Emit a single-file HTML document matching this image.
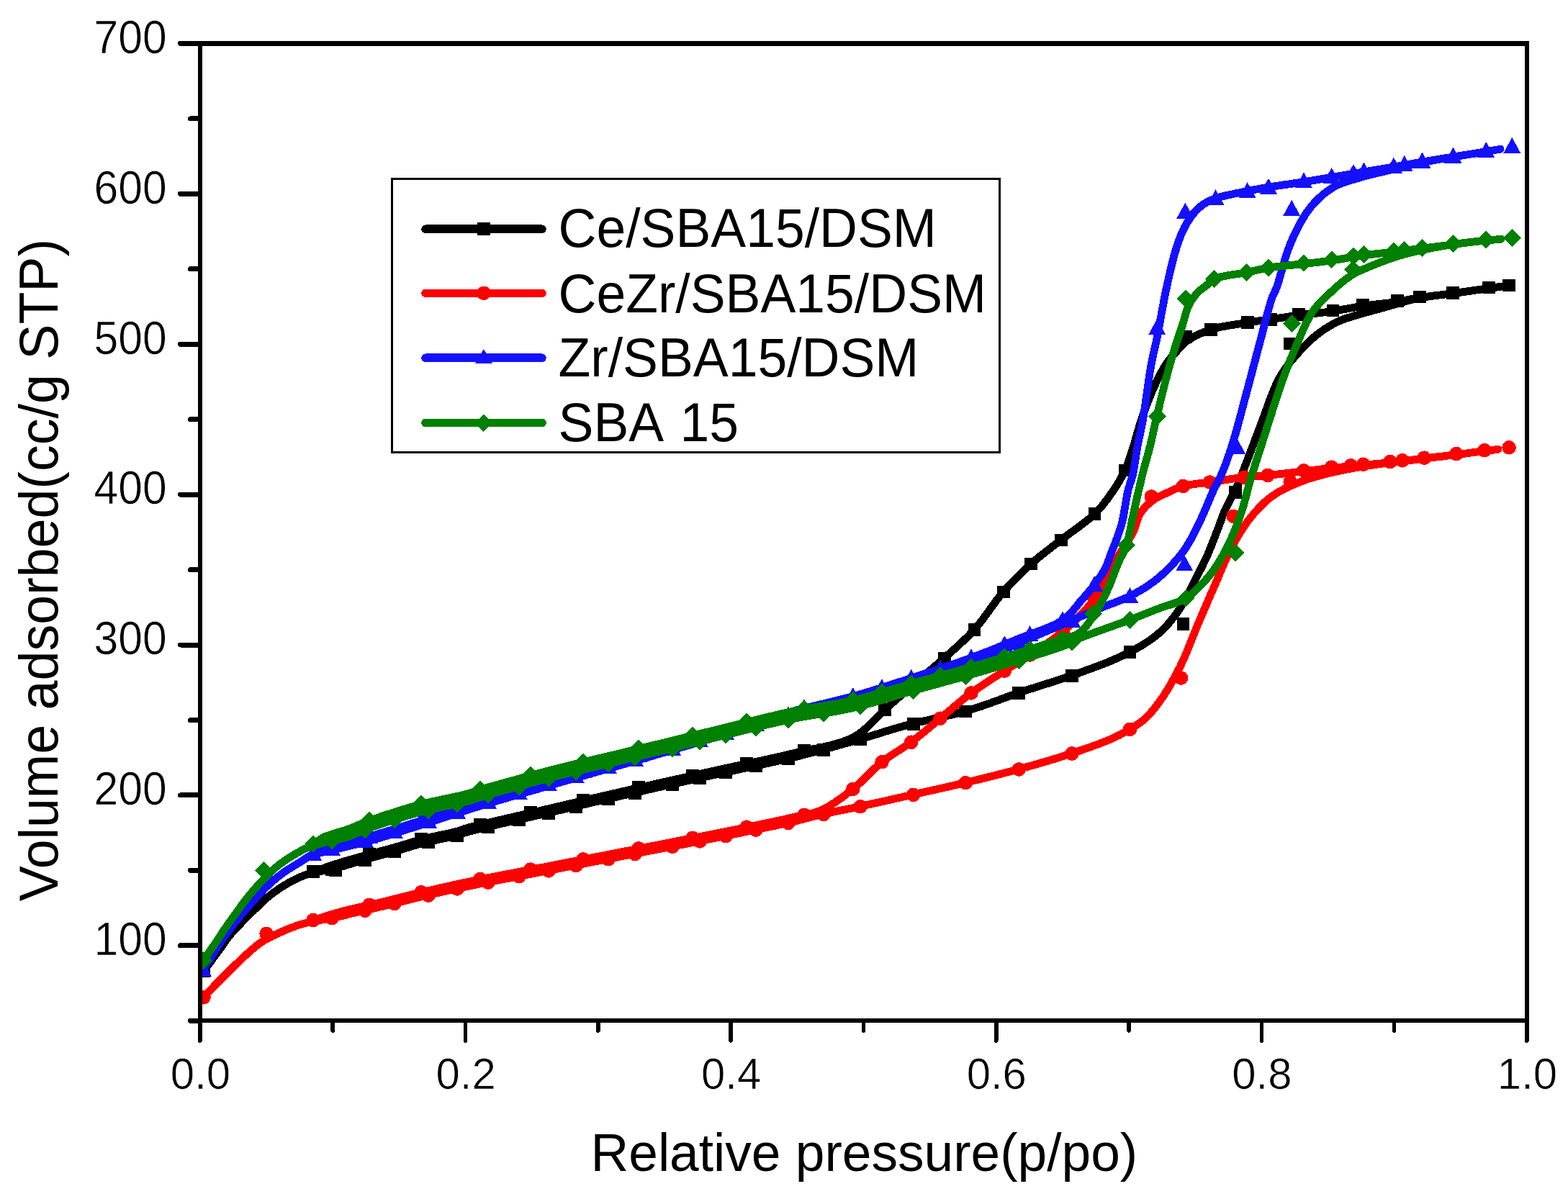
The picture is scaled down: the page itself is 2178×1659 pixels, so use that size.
<!DOCTYPE html>
<html lang="en"><head><meta charset="utf-8"><title>N2 adsorption isotherms</title>
<style>html,body{margin:0;padding:0;background:#fff}body{width:2178px;height:1659px;overflow:hidden}svg{display:block}text{font-family:"Liberation Sans",sans-serif;fill:#000}</style></head><body>
<svg width="2178" height="1659" viewBox="0 0 2178 1659">
<rect width="2178" height="1659" fill="#fff"/>
<defs><clipPath id="plot"><rect x="277.9" y="60.4" width="1843.0" height="1357.9"/></clipPath></defs>
<g id="curves" clip-path="url(#plot)" shape-rendering="crispEdges">
<g><path d="M283.0,1349.0 L284.9,1346.4 L286.9,1343.8 L288.8,1341.2 L290.8,1338.5 L292.8,1335.9 L294.7,1333.2 L296.7,1330.6 L298.6,1328.0 L300.5,1325.5 L302.3,1323.1 L304.0,1320.7 L305.7,1318.4 L306.9,1316.7 L308.1,1315.0 L309.2,1313.4 L310.3,1311.8 L311.4,1310.3 L312.4,1308.7 L313.5,1307.2 L314.5,1305.7 L315.6,1304.3 L316.6,1302.8 L317.7,1301.3 L318.9,1299.9 L320.0,1298.5 L321.2,1297.2 L322.4,1295.8 L323.5,1294.5 L324.7,1293.2 L325.9,1291.9 L327.1,1290.7 L328.3,1289.4 L329.6,1288.1 L330.9,1286.7 L332.2,1285.4 L333.5,1284.0 L335.1,1282.3 L336.8,1280.5 L338.6,1278.7 L340.4,1276.9 L342.3,1275.0 L344.1,1273.1 L346.0,1271.3 L347.9,1269.4 L349.7,1267.6 L351.5,1265.9 L353.2,1264.1 L354.9,1262.5 L356.2,1261.2 L357.5,1259.9 L358.8,1258.7 L360.0,1257.5 L361.2,1256.3 L362.4,1255.1 L363.6,1253.9 L364.8,1252.8 L366.1,1251.6 L367.4,1250.5 L368.7,1249.3 L370.1,1248.1 L371.8,1246.7 L373.5,1245.3 L375.3,1243.9 L377.2,1242.4 L379.0,1241.0 L380.9,1239.6 L382.9,1238.2 L384.8,1236.8 L386.8,1235.4 L388.7,1234.1 L390.7,1232.8 L392.6,1231.6 L394.5,1230.4 L396.4,1229.3 L398.3,1228.2 L400.3,1227.1 L402.2,1226.0 L404.2,1224.9 L406.1,1223.9 L408.1,1222.9 L410.0,1222.0 L411.8,1221.1 L413.6,1220.2 L415.4,1219.4 L416.7,1218.8 L418.0,1218.2 L419.2,1217.7 L420.4,1217.2 L421.6,1216.8 L422.7,1216.3 L423.9,1215.9 L425.1,1215.5 L426.4,1215.0 L427.7,1214.6 L429.1,1214.2 L430.6,1213.7 L433.0,1213.1 L435.6,1212.5 L438.2,1211.9 L441.1,1211.3 L444.0,1210.8 L447.0,1210.2 L450.1,1209.6 L453.2,1209.0 L456.4,1208.4 L459.6,1207.8 L462.8,1207.1 L466.0,1206.3 L469.9,1205.3 L474.0,1204.2 L478.2,1203.0 L482.5,1201.7 L486.9,1200.5 L491.3,1199.1 L495.7,1197.8 L500.0,1196.5 L504.2,1195.2 L508.3,1194.0 L512.3,1192.9 L516.0,1191.8 L518.7,1191.0 L521.3,1190.3 L523.8,1189.7 L526.2,1189.0 L528.6,1188.4 L530.9,1187.8 L533.2,1187.2 L535.6,1186.5 L538.0,1185.9 L540.4,1185.2 L543.0,1184.5 L545.6,1183.8 L549.0,1182.8 L552.5,1181.8 L556.1,1180.7 L559.7,1179.6 L563.4,1178.5 L567.2,1177.3 L571.0,1176.2 L574.8,1175.0 L578.7,1173.9 L582.5,1172.8 L586.3,1171.8 L590.0,1170.8 L593.8,1169.9 L597.7,1168.9 L601.7,1168.0 L605.7,1167.2 L609.7,1166.3 L613.7,1165.5 L617.7,1164.7 L621.5,1163.9 L625.1,1163.1 L628.5,1162.3 L631.7,1161.6 L634.6,1160.8 L636.1,1160.4 L637.5,1160.0 L638.7,1159.6 L639.8,1159.2 L640.9,1158.8 L641.9,1158.4 L643.0,1158.0 L644.1,1157.6 L645.3,1157.2 L646.7,1156.8 L648.2,1156.3 L650.0,1155.8 L655.6,1154.3 L662.5,1152.5 L670.4,1150.6 L679.2,1148.5 L688.7,1146.3 L698.7,1143.9 L709.1,1141.6 L719.6,1139.1 L730.1,1136.7 L740.5,1134.3 L750.5,1132.0 L760.0,1129.8 L769.2,1127.6 L778.3,1125.5 L787.4,1123.4 L796.5,1121.2 L805.5,1119.1 L814.6,1117.0 L823.8,1114.8 L832.9,1112.7 L842.2,1110.5 L851.5,1108.4 L860.9,1106.2 L870.4,1104.0 L880.9,1101.6 L891.6,1099.2 L902.5,1096.7 L913.4,1094.2 L924.5,1091.7 L935.6,1089.2 L946.7,1086.7 L957.6,1084.3 L968.5,1081.8 L979.2,1079.4 L989.8,1077.1 L1000.0,1074.8 L1008.8,1072.9 L1017.5,1071.0 L1026.1,1069.1 L1034.6,1067.3 L1043.0,1065.5 L1051.3,1063.8 L1059.6,1062.0 L1067.7,1060.2 L1075.9,1058.4 L1083.9,1056.6 L1092.0,1054.7 L1100.0,1052.8 L1107.4,1051.0 L1114.8,1049.1 L1122.1,1047.2 L1129.4,1045.3 L1136.6,1043.4 L1143.8,1041.4 L1150.9,1039.5 L1158.0,1037.5 L1165.1,1035.5 L1172.1,1033.5 L1179.1,1031.6 L1186.0,1029.6 L1192.5,1027.7 L1198.9,1025.8 L1205.3,1023.9 L1211.6,1022.0 L1217.8,1020.1 L1224.1,1018.1 L1230.3,1016.2 L1236.6,1014.3 L1242.9,1012.4 L1249.2,1010.6 L1255.6,1008.8 L1262.0,1007.0 L1268.8,1005.2 L1275.6,1003.6 L1282.5,1002.0 L1289.5,1000.4 L1296.5,998.8 L1303.4,997.3 L1310.4,995.8 L1317.4,994.2 L1324.3,992.6 L1331.2,990.9 L1337.9,989.1 L1344.6,987.2 L1350.9,985.3 L1357.0,983.3 L1363.1,981.3 L1369.2,979.2 L1375.1,977.1 L1381.1,974.9 L1387.1,972.7 L1393.1,970.5 L1399.1,968.3 L1405.1,966.1 L1411.2,963.9 L1417.4,961.8 L1424.0,959.6 L1430.7,957.4 L1437.4,955.3 L1444.2,953.1 L1451.0,950.9 L1457.9,948.8 L1464.7,946.6 L1471.5,944.4 L1478.2,942.2 L1484.8,940.0 L1491.4,937.7 L1497.8,935.4 L1503.7,933.3 L1509.5,931.1 L1515.4,929.0 L1521.2,926.8 L1526.9,924.7 L1532.6,922.5 L1538.2,920.3 L1543.7,918.0 L1549.1,915.7 L1554.4,913.4 L1559.5,911.0 L1564.5,908.5 L1568.6,906.4 L1572.7,904.2 L1576.7,902.1 L1580.6,899.9 L1584.4,897.7 L1588.2,895.4 L1591.8,893.1 L1595.4,890.8 L1598.8,888.4 L1602.2,885.9 L1605.5,883.4 L1608.6,880.8 L1611.3,878.4 L1613.9,876.0 L1616.4,873.6 L1618.8,871.1 L1621.2,868.6 L1623.4,866.0 L1625.7,863.4 L1627.8,860.7 L1629.9,858.0 L1632.0,855.3 L1634.1,852.5 L1636.1,849.6 L1638.2,846.5 L1640.2,843.4 L1642.2,840.1 L1644.0,836.8 L1645.9,833.4 L1647.7,830.0 L1649.5,826.6 L1651.2,823.1 L1653.0,819.7 L1654.7,816.3 L1656.4,812.9 L1658.1,809.6 L1659.7,806.5 L1661.3,803.4 L1663.0,800.3 L1664.5,797.3 L1666.1,794.2 L1667.7,791.2 L1669.2,788.1 L1670.7,785.1 L1672.2,782.0 L1673.7,779.0 L1675.1,775.9 L1676.5,772.8 L1677.9,769.7 L1679.2,766.6 L1680.5,763.5 L1681.8,760.3 L1683.0,757.2 L1684.3,754.0 L1685.5,750.9 L1686.7,747.8 L1687.9,744.8 L1689.0,741.8 L1690.1,738.9 L1691.2,736.1 L1692.0,733.9 L1692.8,731.8 L1693.6,729.8 L1694.3,727.8 L1695.0,725.9 L1695.7,723.9 L1696.4,722.0 L1697.1,720.0 L1697.8,718.1 L1698.6,716.0 L1699.5,714.0 L1700.4,711.8 L1701.7,709.0 L1703.0,706.1 L1704.5,703.1 L1706.0,700.1 L1707.6,697.0 L1709.2,693.9 L1710.8,690.8 L1712.4,687.6 L1714.0,684.5 L1715.6,681.3 L1717.1,678.2 L1718.5,675.1 L1719.8,672.1 L1721.1,669.1 L1722.3,666.1 L1723.5,663.1 L1724.7,660.1 L1725.9,657.1 L1727.0,654.1 L1728.2,651.1 L1729.3,648.0 L1730.5,644.8 L1731.8,641.6 L1733.0,638.4 L1734.5,634.6 L1735.9,630.8 L1737.4,626.8 L1738.9,622.9 L1740.4,618.9 L1741.9,614.8 L1743.4,610.8 L1745.0,606.6 L1746.6,602.4 L1748.2,598.2 L1749.8,593.9 L1751.5,589.6 L1753.4,584.5 L1755.4,579.1 L1757.4,573.6 L1759.4,568.0 L1761.4,562.3 L1763.4,556.7 L1765.6,551.0 L1767.7,545.5 L1770.0,540.1 L1772.3,534.9 L1774.6,529.9 L1777.1,525.3 L1779.2,521.7 L1781.3,518.3 L1783.5,514.9 L1785.7,511.7 L1788.0,508.6 L1790.3,505.5 L1792.7,502.6 L1795.1,499.7 L1797.5,496.8 L1799.9,494.1 L1802.3,491.3 L1804.7,488.6 L1806.9,486.2 L1809.1,483.8 L1811.4,481.5 L1813.6,479.2 L1815.9,476.9 L1818.1,474.7 L1820.4,472.6 L1822.8,470.5 L1825.1,468.5 L1827.4,466.5 L1829.8,464.6 L1832.2,462.8 L1834.4,461.2 L1836.7,459.6 L1838.9,458.0 L1841.2,456.5 L1843.5,455.1 L1845.8,453.7 L1848.1,452.3 L1850.4,451.0 L1852.8,449.8 L1855.1,448.6 L1857.4,447.4 L1859.8,446.3 L1862.0,445.3 L1864.3,444.4 L1866.5,443.5 L1868.8,442.7 L1871.0,442.0 L1873.3,441.3 L1875.6,440.6 L1877.9,439.9 L1880.2,439.2 L1882.6,438.5 L1884.9,437.8 L1887.3,437.1 L1889.9,436.3 L1892.5,435.6 L1895.1,434.8 L1897.7,434.1 L1900.3,433.3 L1903.0,432.6 L1905.7,431.9 L1908.5,431.1 L1911.2,430.4 L1914.1,429.6 L1917.0,428.8 L1920.0,428.0 L1923.8,426.9 L1927.8,425.8 L1932.0,424.6 L1936.2,423.4 L1940.5,422.1 L1944.8,420.9 L1949.2,419.6 L1953.6,418.4 L1958.0,417.3 L1962.3,416.2 L1966.6,415.2 L1970.8,414.3 L1974.7,413.5 L1978.5,412.9 L1982.4,412.3 L1986.2,411.7 L1990.0,411.2 L1993.7,410.7 L1997.5,410.2 L2001.3,409.8 L2005.2,409.3 L2009.0,408.8 L2012.9,408.3 L2016.8,407.8 L2021.1,407.2 L2025.5,406.6 L2030.1,405.9 L2034.8,405.2 L2039.4,404.6 L2044.1,403.9 L2048.6,403.3 L2053.0,402.6 L2057.3,402.0 L2061.2,401.5 L2064.9,401.0 L2068.2,400.5 L2069.9,400.3 L2071.5,400.0 L2073.0,399.8 L2074.5,399.6 L2075.8,399.4 L2077.2,399.3 L2078.5,399.1 L2079.7,398.9 L2081.0,398.7 L2082.3,398.6 L2083.6,398.4 L2085.0,398.2" fill="none" stroke="#000000" stroke-width="10.8" stroke-linejoin="round" stroke-linecap="round"/>
<path d="M426.0,1215.3 L426.8,1215.0 L427.6,1214.6 L428.4,1214.3 L429.1,1214.0 L429.9,1213.7 L430.7,1213.4 L431.4,1213.0 L432.3,1212.7 L433.1,1212.3 L434.0,1212.0 L435.0,1211.6 L436.0,1211.2 L437.9,1210.5 L440.0,1209.7 L442.2,1208.9 L444.5,1208.1 L446.9,1207.2 L449.5,1206.3 L452.1,1205.4 L454.8,1204.4 L457.6,1203.5 L460.4,1202.5 L463.2,1201.6 L466.0,1200.7 L469.8,1199.5 L473.7,1198.3 L477.9,1197.0 L482.2,1195.8 L486.6,1194.5 L491.0,1193.2 L495.4,1192.0 L499.8,1190.7 L504.1,1189.5 L508.3,1188.4 L512.2,1187.3 L516.0,1186.2 L518.7,1185.4 L521.3,1184.7 L523.8,1184.1 L526.2,1183.4 L528.6,1182.8 L530.9,1182.2 L533.2,1181.6 L535.6,1180.9 L538.0,1180.3 L540.4,1179.6 L543.0,1178.9 L545.6,1178.2 L549.0,1177.2 L552.5,1176.2 L556.1,1175.1 L559.7,1174.0 L563.4,1172.9 L567.2,1171.7 L571.0,1170.6 L574.8,1169.4 L578.7,1168.3 L582.5,1167.2 L586.3,1166.2 L590.0,1165.2 L593.8,1164.3 L597.7,1163.3 L601.7,1162.4 L605.7,1161.6 L609.7,1160.7 L613.7,1159.9 L617.7,1159.1 L621.5,1158.3 L625.1,1157.5 L628.5,1156.7 L631.7,1156.0 L634.6,1155.2 L636.1,1154.8 L637.5,1154.4 L638.7,1154.0 L639.8,1153.6 L640.9,1153.2 L641.9,1152.8 L643.0,1152.4 L644.1,1152.0 L645.3,1151.6 L646.7,1151.2 L648.2,1150.7 L650.0,1150.2 L655.6,1148.7 L662.5,1146.9 L670.4,1145.0 L679.2,1142.9 L688.7,1140.7 L698.7,1138.3 L709.1,1136.0 L719.6,1133.5 L730.1,1131.1 L740.5,1128.7 L750.5,1126.4 L760.0,1124.2 L769.2,1122.0 L778.3,1119.9 L787.4,1117.8 L796.5,1115.6 L805.5,1113.5 L814.6,1111.4 L823.8,1109.2 L832.9,1107.1 L842.2,1104.9 L851.5,1102.8 L860.9,1100.6 L870.4,1098.4 L880.9,1096.0 L891.6,1093.6 L902.5,1091.1 L913.4,1088.6 L924.5,1086.1 L935.6,1083.6 L946.7,1081.1 L957.6,1078.7 L968.5,1076.2 L979.2,1073.8 L989.8,1071.5 L1000.0,1069.2 L1008.8,1067.3 L1017.5,1065.4 L1026.1,1063.5 L1034.6,1061.7 L1043.0,1059.9 L1051.3,1058.2 L1059.6,1056.4 L1067.7,1054.6 L1075.9,1052.8 L1083.9,1051.0 L1092.0,1049.1 L1100.0,1047.2 L1107.5,1045.4 L1115.2,1043.8 L1122.8,1042.2 L1130.5,1040.6 L1138.2,1039.1 L1145.7,1037.4 L1153.1,1035.7 L1160.3,1033.8 L1167.2,1031.7 L1173.8,1029.4 L1180.1,1026.9 L1186.0,1024.0 L1190.4,1021.4 L1194.5,1018.7 L1198.4,1015.7 L1202.0,1012.6 L1205.6,1009.4 L1209.0,1006.1 L1212.3,1002.7 L1215.5,999.3 L1218.8,995.9 L1222.1,992.6 L1225.4,989.3 L1228.9,986.1 L1232.4,983.1 L1235.8,980.0 L1239.2,977.0 L1242.6,974.0 L1246.1,971.0 L1249.5,968.0 L1252.9,965.0 L1256.3,962.0 L1259.7,959.0 L1263.1,956.0 L1266.6,953.0 L1270.0,950.0 L1273.5,947.0 L1276.9,944.1 L1280.4,941.1 L1283.9,938.2 L1287.3,935.3 L1290.8,932.4 L1294.3,929.4 L1297.8,926.5 L1301.2,923.5 L1304.7,920.5 L1308.2,917.5 L1311.6,914.4 L1315.1,911.2 L1318.7,908.1 L1322.2,904.9 L1325.7,901.8 L1329.3,898.6 L1332.8,895.4 L1336.3,892.1 L1339.8,888.8 L1343.3,885.4 L1346.7,882.0 L1350.1,878.4 L1353.4,874.8 L1356.9,870.8 L1360.4,866.5 L1363.8,862.2 L1367.1,857.7 L1370.4,853.2 L1373.7,848.6 L1377.0,844.0 L1380.3,839.5 L1383.6,835.0 L1386.9,830.7 L1390.3,826.4 L1393.7,822.4 L1396.8,818.8 L1400.0,815.4 L1403.1,812.0 L1406.3,808.6 L1409.4,805.3 L1412.6,802.1 L1415.8,798.9 L1419.0,795.8 L1422.3,792.7 L1425.6,789.6 L1428.9,786.5 L1432.2,783.5 L1435.5,780.6 L1438.9,777.7 L1442.2,774.9 L1445.6,772.1 L1449.1,769.4 L1452.5,766.7 L1456.0,764.0 L1459.5,761.3 L1463.0,758.6 L1466.5,755.9 L1470.0,753.2 L1473.6,750.4 L1477.5,747.4 L1481.4,744.4 L1485.5,741.4 L1489.7,738.4 L1493.8,735.4 L1498.0,732.4 L1502.1,729.3 L1506.1,726.3 L1509.9,723.2 L1513.7,720.2 L1517.1,717.1 L1520.4,714.1 L1522.8,711.7 L1525.1,709.2 L1527.3,706.8 L1529.5,704.4 L1531.5,702.0 L1533.4,699.6 L1535.3,697.1 L1537.2,694.7 L1539.0,692.2 L1540.8,689.8 L1542.5,687.2 L1544.3,684.7 L1546.0,682.2 L1547.7,679.7 L1549.4,677.2 L1551.0,674.6 L1552.6,672.1 L1554.1,669.5 L1555.6,666.9 L1557.1,664.3 L1558.5,661.6 L1559.9,659.0 L1561.3,656.3 L1562.6,653.5 L1563.9,650.5 L1565.2,647.5 L1566.4,644.3 L1567.6,641.1 L1568.7,637.8 L1569.8,634.6 L1570.9,631.4 L1571.9,628.2 L1572.9,625.1 L1573.8,622.1 L1574.7,619.3 L1575.5,616.7 L1576.0,615.0 L1576.5,613.4 L1576.9,611.9 L1577.4,610.4 L1577.7,609.0 L1578.1,607.6 L1578.5,606.2 L1578.9,604.8 L1579.3,603.3 L1579.7,601.9 L1580.1,600.3 L1580.6,598.7 L1581.3,596.5 L1581.9,594.3 L1582.6,592.0 L1583.4,589.7 L1584.1,587.3 L1584.9,584.9 L1585.7,582.5 L1586.5,580.0 L1587.3,577.5 L1588.2,575.0 L1589.1,572.5 L1590.0,570.0 L1591.1,567.1 L1592.2,564.2 L1593.3,561.2 L1594.5,558.2 L1595.7,555.2 L1596.9,552.1 L1598.1,549.1 L1599.4,546.1 L1600.6,543.1 L1601.9,540.2 L1603.2,537.3 L1604.5,534.5 L1605.7,532.0 L1606.8,529.6 L1608.0,527.1 L1609.2,524.7 L1610.4,522.3 L1611.6,520.0 L1612.8,517.7 L1614.1,515.4 L1615.3,513.2 L1616.6,511.0 L1617.9,508.9 L1619.2,506.9 L1620.4,505.2 L1621.5,503.5 L1622.7,501.9 L1623.9,500.3 L1625.1,498.8 L1626.4,497.3 L1627.6,495.8 L1628.9,494.3 L1630.1,492.9 L1631.4,491.4 L1632.6,490.0 L1633.9,488.6 L1635.1,487.3 L1636.2,486.0 L1637.3,484.7 L1638.4,483.4 L1639.5,482.2 L1640.7,481.0 L1641.8,479.7 L1643.0,478.5 L1644.3,477.4 L1645.6,476.2 L1647.1,475.0 L1648.6,473.9 L1650.8,472.4 L1653.1,470.9 L1655.6,469.5 L1658.1,468.0 L1660.8,466.6 L1663.6,465.3 L1666.4,463.9 L1669.4,462.6 L1672.3,461.4 L1675.4,460.2 L1678.5,459.1 L1681.6,458.0 L1685.5,456.8 L1689.5,455.7 L1693.8,454.7 L1698.2,453.8 L1702.7,453.0 L1707.2,452.2 L1711.8,451.5 L1716.3,450.8 L1720.7,450.1 L1725.0,449.5 L1729.1,448.8 L1733.0,448.2 L1735.9,447.7 L1738.8,447.3 L1741.5,446.9 L1744.2,446.5 L1746.8,446.1 L1749.4,445.8 L1752.0,445.4 L1754.5,445.1 L1757.1,444.7 L1759.8,444.4 L1762.4,444.0 L1765.2,443.6 L1768.3,443.2 L1771.4,442.7 L1774.5,442.3 L1777.6,441.8 L1780.8,441.3 L1784.0,440.9 L1787.2,440.4 L1790.5,439.9 L1793.7,439.5 L1797.0,439.0 L1800.3,438.5 L1803.7,438.1 L1807.5,437.6 L1811.3,437.2 L1815.2,436.7 L1819.1,436.3 L1823.0,435.8 L1827.0,435.4 L1831.0,435.0 L1835.0,434.5 L1839.0,434.0 L1842.9,433.6 L1846.8,433.0 L1850.6,432.5 L1854.2,432.0 L1857.8,431.4 L1861.3,430.8 L1864.8,430.1 L1868.3,429.5 L1871.8,428.8 L1875.3,428.2 L1878.8,427.6 L1882.2,426.9 L1885.7,426.3 L1889.3,425.7 L1892.8,425.2 L1896.4,424.7 L1900.1,424.2 L1903.8,423.8 L1907.5,423.3 L1911.2,422.9 L1914.9,422.5 L1918.6,422.1 L1922.3,421.7 L1925.9,421.3 L1929.5,420.9 L1933.0,420.4 L1936.5,419.9 L1939.5,419.4 L1942.4,418.9 L1945.3,418.4 L1948.1,417.9 L1950.8,417.4 L1953.6,416.8 L1956.4,416.3 L1959.1,415.7 L1962.0,415.2 L1964.8,414.7 L1967.8,414.2 L1970.8,413.7 L1974.4,413.2 L1978.0,412.7 L1981.8,412.2 L1985.5,411.7 L1989.4,411.2 L1993.2,410.7 L1997.1,410.3 L2001.0,409.8 L2005.0,409.3 L2008.9,408.8 L2012.9,408.3 L2016.8,407.8 L2021.1,407.2 L2025.5,406.6 L2030.1,406.0 L2034.8,405.3 L2039.4,404.6 L2044.1,404.0 L2048.6,403.3 L2053.0,402.7 L2057.3,402.1 L2061.2,401.5 L2064.9,401.0 L2068.2,400.5 L2069.9,400.3 L2071.5,400.0 L2073.0,399.8 L2074.5,399.6 L2075.8,399.4 L2077.2,399.3 L2078.5,399.1 L2079.7,398.9 L2081.0,398.7 L2082.3,398.6 L2083.6,398.4 L2085.0,398.2" fill="none" stroke="#000000" stroke-width="10.8" stroke-linejoin="round" stroke-linecap="round"/>
<rect x="452.1" y="1198.9" width="17.8" height="17.8" fill="#000000"/>
<rect x="498.1" y="1185.8" width="17.8" height="17.8" fill="#000000"/>
<rect x="539.1" y="1174.5" width="17.8" height="17.8" fill="#000000"/>
<rect x="586.1" y="1161.0" width="17.8" height="17.8" fill="#000000"/>
<rect x="626.1" y="1152.1" width="17.8" height="17.8" fill="#000000"/>
<rect x="669.1" y="1140.2" width="17.8" height="17.8" fill="#000000"/>
<rect x="712.1" y="1130.2" width="17.8" height="17.8" fill="#000000"/>
<rect x="753.1" y="1120.7" width="17.8" height="17.8" fill="#000000"/>
<rect x="791.1" y="1111.8" width="17.8" height="17.8" fill="#000000"/>
<rect x="836.1" y="1101.3" width="17.8" height="17.8" fill="#000000"/>
<rect x="873.1" y="1092.7" width="17.8" height="17.8" fill="#000000"/>
<rect x="925.1" y="1081.0" width="17.8" height="17.8" fill="#000000"/>
<rect x="963.1" y="1072.4" width="17.8" height="17.8" fill="#000000"/>
<rect x="999.1" y="1064.4" width="17.8" height="17.8" fill="#000000"/>
<rect x="1041.1" y="1055.5" width="17.8" height="17.8" fill="#000000"/>
<rect x="1086.1" y="1045.4" width="17.8" height="17.8" fill="#000000"/>
<rect x="1135.1" y="1032.8" width="17.8" height="17.8" fill="#000000"/>
<rect x="1186.1" y="1018.4" width="17.8" height="17.8" fill="#000000"/>
<rect x="1259.7" y="996.7" width="17.8" height="17.8" fill="#000000"/>
<rect x="1332.4" y="979.5" width="17.8" height="17.8" fill="#000000"/>
<rect x="1406.3" y="954.0" width="17.8" height="17.8" fill="#000000"/>
<rect x="1480.1" y="929.9" width="17.8" height="17.8" fill="#000000"/>
<rect x="1560.5" y="897.4" width="17.8" height="17.8" fill="#000000"/>
<rect x="426.1" y="1202.4" width="17.8" height="17.8" fill="#000000"/>
<rect x="504.1" y="1177.8" width="17.8" height="17.8" fill="#000000"/>
<rect x="576.1" y="1157.3" width="17.8" height="17.8" fill="#000000"/>
<rect x="658.1" y="1136.6" width="17.8" height="17.8" fill="#000000"/>
<rect x="728.1" y="1120.3" width="17.8" height="17.8" fill="#000000"/>
<rect x="801.1" y="1103.2" width="17.8" height="17.8" fill="#000000"/>
<rect x="878.1" y="1085.4" width="17.8" height="17.8" fill="#000000"/>
<rect x="953.1" y="1068.5" width="17.8" height="17.8" fill="#000000"/>
<rect x="1028.1" y="1052.0" width="17.8" height="17.8" fill="#000000"/>
<rect x="1108.1" y="1034.2" width="17.8" height="17.8" fill="#000000"/>
<rect x="1220.0" y="977.2" width="17.8" height="17.8" fill="#000000"/>
<rect x="1302.7" y="905.5" width="17.8" height="17.8" fill="#000000"/>
<rect x="1344.5" y="865.9" width="17.8" height="17.8" fill="#000000"/>
<rect x="1384.8" y="813.5" width="17.8" height="17.8" fill="#000000"/>
<rect x="1423.3" y="774.6" width="17.8" height="17.8" fill="#000000"/>
<rect x="1464.7" y="741.5" width="17.8" height="17.8" fill="#000000"/>
<rect x="1511.5" y="705.2" width="17.8" height="17.8" fill="#000000"/>
<rect x="1553.7" y="644.6" width="17.8" height="17.8" fill="#000000"/>
<rect x="1672.7" y="449.1" width="17.8" height="17.8" fill="#000000"/>
<rect x="1724.1" y="439.3" width="17.8" height="17.8" fill="#000000"/>
<rect x="1756.3" y="434.7" width="17.8" height="17.8" fill="#000000"/>
<rect x="1794.8" y="428.2" width="17.8" height="17.8" fill="#000000"/>
<rect x="1842.6" y="422.5" width="17.8" height="17.8" fill="#000000"/>
<rect x="1883.9" y="415.3" width="17.8" height="17.8" fill="#000000"/>
<rect x="1931.9" y="409.3" width="17.8" height="17.8" fill="#000000"/>
<rect x="1963.3" y="403.6" width="17.8" height="17.8" fill="#000000"/>
<rect x="2009.0" y="397.7" width="17.8" height="17.8" fill="#000000"/>
<rect x="2059.1" y="390.6" width="17.8" height="17.8" fill="#000000"/>
<rect x="2087.2" y="387.5" width="17.8" height="17.8" fill="#000000"/>
<rect x="274.1" y="1340.1" width="17.8" height="17.8" fill="#000000"/>
<rect x="1634.6" y="858.1" width="17.8" height="17.8" fill="#000000"/>
<rect x="1782.9" y="468.6" width="17.8" height="17.8" fill="#000000"/>
<rect x="457.3" y="1200.3" width="17.8" height="17.8" fill="#000000"/>
<rect x="1707.1" y="675.4" width="17.8" height="17.8" fill="#000000"/>
<rect x="1638.1" y="459.1" width="17.8" height="17.8" fill="#000000"/></g>
<g><path d="M282.7,1385.2 L285.0,1382.9 L287.2,1380.6 L289.5,1378.3 L291.7,1376.0 L294.0,1373.7 L296.3,1371.4 L298.5,1369.1 L300.8,1366.8 L303.0,1364.5 L305.3,1362.2 L307.5,1360.0 L309.8,1357.7 L312.0,1355.5 L314.2,1353.3 L316.4,1351.1 L318.6,1348.9 L320.8,1346.7 L323.0,1344.5 L325.2,1342.3 L327.4,1340.2 L329.6,1338.1 L331.8,1335.9 L334.1,1333.9 L336.3,1331.8 L338.5,1329.8 L340.6,1327.8 L342.8,1325.8 L345.0,1323.8 L347.2,1321.8 L349.4,1319.9 L351.6,1318.0 L353.8,1316.1 L356.0,1314.3 L358.2,1312.6 L360.5,1310.9 L362.8,1309.3 L364.9,1307.9 L367.1,1306.6 L369.3,1305.3 L371.5,1304.1 L373.7,1302.9 L375.9,1301.8 L378.1,1300.7 L380.3,1299.6 L382.6,1298.6 L384.8,1297.5 L387.1,1296.5 L389.3,1295.5 L391.5,1294.5 L393.7,1293.5 L395.9,1292.6 L398.1,1291.6 L400.3,1290.7 L402.5,1289.8 L404.7,1288.9 L407.0,1288.1 L409.2,1287.3 L411.4,1286.5 L413.7,1285.7 L415.9,1285.0 L418.1,1284.3 L420.3,1283.7 L422.5,1283.2 L424.7,1282.6 L426.9,1282.1 L429.1,1281.6 L431.3,1281.2 L433.5,1280.7 L435.8,1280.3 L438.0,1279.8 L440.2,1279.4 L442.4,1278.9 L444.6,1278.5 L446.8,1278.1 L449.0,1277.7 L451.2,1277.3 L453.4,1276.9 L455.7,1276.5 L457.9,1276.1 L460.1,1275.7 L462.3,1275.3 L464.5,1274.9 L466.7,1274.5 L468.9,1274.0 L471.1,1273.5 L473.3,1273.0 L475.6,1272.5 L477.8,1271.9 L480.0,1271.4 L482.2,1270.8 L484.4,1270.2 L486.6,1269.7 L488.8,1269.1 L491.0,1268.6 L493.2,1268.0 L495.4,1267.5 L497.4,1267.0 L499.4,1266.6 L501.3,1266.2 L503.2,1265.7 L505.1,1265.3 L507.0,1264.9 L509.0,1264.5 L511.0,1264.0 L513.1,1263.6 L515.2,1263.1 L517.5,1262.6 L520.0,1262.0 L524.3,1261.0 L529.0,1259.8 L534.1,1258.6 L539.4,1257.3 L544.9,1255.9 L550.6,1254.5 L556.3,1253.0 L562.2,1251.6 L568.0,1250.1 L573.8,1248.7 L579.5,1247.3 L585.0,1246.0 L590.3,1244.7 L595.6,1243.5 L600.8,1242.3 L605.9,1241.1 L611.1,1239.9 L616.2,1238.8 L621.5,1237.6 L626.8,1236.4 L632.3,1235.2 L638.0,1233.9 L643.9,1232.7 L650.0,1231.4 L658.7,1229.6 L667.9,1227.7 L677.4,1225.8 L687.3,1223.9 L697.4,1221.9 L707.7,1220.0 L718.1,1218.0 L728.6,1216.0 L739.1,1213.9 L749.6,1211.9 L759.9,1210.0 L770.0,1208.0 L780.0,1206.1 L790.0,1204.1 L800.0,1202.2 L810.0,1200.2 L820.0,1198.3 L830.0,1196.3 L840.0,1194.4 L850.0,1192.4 L860.0,1190.5 L870.0,1188.5 L880.0,1186.6 L890.0,1184.6 L900.1,1182.6 L910.2,1180.7 L920.4,1178.7 L930.6,1176.7 L940.9,1174.7 L951.1,1172.7 L961.2,1170.7 L971.3,1168.7 L981.2,1166.8 L991.0,1164.8 L1000.6,1162.9 L1010.0,1161.0 L1018.1,1159.4 L1026.2,1157.7 L1034.3,1156.0 L1042.3,1154.4 L1050.3,1152.7 L1058.1,1151.1 L1065.7,1149.5 L1073.2,1147.9 L1080.4,1146.4 L1087.2,1144.9 L1093.8,1143.4 L1100.0,1142.0 L1103.9,1141.1 L1107.5,1140.2 L1111.0,1139.3 L1114.3,1138.5 L1117.5,1137.7 L1120.6,1136.9 L1123.7,1136.0 L1126.8,1135.2 L1129.9,1134.4 L1133.1,1133.6 L1136.5,1132.8 L1140.0,1132.0 L1144.2,1131.0 L1148.5,1130.1 L1152.9,1129.2 L1157.3,1128.2 L1161.8,1127.3 L1166.3,1126.4 L1170.9,1125.5 L1175.6,1124.5 L1180.3,1123.5 L1185.1,1122.6 L1189.9,1121.5 L1194.8,1120.5 L1200.6,1119.2 L1206.5,1117.9 L1212.5,1116.6 L1218.6,1115.3 L1224.8,1113.9 L1231.1,1112.5 L1237.3,1111.1 L1243.6,1109.6 L1249.9,1108.2 L1256.2,1106.8 L1262.4,1105.4 L1268.6,1104.0 L1274.7,1102.6 L1280.7,1101.3 L1286.8,1099.9 L1292.9,1098.6 L1298.9,1097.2 L1305.0,1095.8 L1311.0,1094.5 L1317.1,1093.1 L1323.1,1091.7 L1329.2,1090.3 L1335.2,1088.9 L1341.3,1087.4 L1347.4,1085.9 L1353.6,1084.4 L1359.8,1082.9 L1365.9,1081.4 L1372.1,1079.9 L1378.3,1078.4 L1384.4,1076.8 L1390.6,1075.2 L1396.7,1073.6 L1402.9,1072.0 L1409.1,1070.4 L1415.2,1068.7 L1421.4,1067.0 L1427.7,1065.2 L1433.9,1063.5 L1440.2,1061.7 L1446.5,1059.8 L1452.8,1058.0 L1459.0,1056.1 L1465.2,1054.3 L1471.3,1052.4 L1477.3,1050.5 L1483.2,1048.6 L1489.0,1046.7 L1494.0,1045.0 L1499.1,1043.3 L1504.2,1041.6 L1509.2,1039.8 L1514.1,1038.1 L1519.0,1036.3 L1523.8,1034.6 L1528.4,1032.8 L1532.9,1031.1 L1537.2,1029.4 L1541.2,1027.7 L1545.0,1026.0 L1547.4,1024.9 L1549.7,1023.8 L1551.9,1022.7 L1554.1,1021.7 L1556.1,1020.6 L1558.1,1019.6 L1560.0,1018.5 L1561.9,1017.4 L1563.8,1016.4 L1565.6,1015.3 L1567.5,1014.1 L1569.4,1013.0 L1571.2,1011.9 L1573.0,1010.9 L1574.7,1009.8 L1576.5,1008.8 L1578.2,1007.7 L1579.9,1006.6 L1581.6,1005.5 L1583.3,1004.4 L1585.0,1003.1 L1586.7,1001.8 L1588.3,1000.5 L1590.0,999.0 L1592.1,997.1 L1594.1,995.0 L1596.1,992.9 L1598.2,990.6 L1600.2,988.3 L1602.2,985.8 L1604.2,983.4 L1606.2,980.8 L1608.2,978.2 L1610.1,975.5 L1612.1,972.8 L1614.0,970.0 L1616.3,966.7 L1618.5,963.3 L1620.7,959.7 L1622.9,956.1 L1625.1,952.4 L1627.3,948.7 L1629.4,944.8 L1631.6,940.9 L1633.7,937.0 L1635.7,933.0 L1637.8,929.0 L1639.8,925.0 L1641.9,920.5 L1644.0,916.0 L1646.1,911.3 L1648.1,906.6 L1650.1,901.8 L1652.0,896.9 L1654.0,892.1 L1655.9,887.2 L1657.8,882.4 L1659.8,877.5 L1661.7,872.7 L1663.7,868.0 L1665.7,863.4 L1667.6,858.7 L1669.6,854.1 L1671.6,849.5 L1673.6,844.9 L1675.6,840.3 L1677.5,835.7 L1679.5,831.1 L1681.5,826.5 L1683.5,821.9 L1685.5,817.4 L1687.5,812.8 L1689.5,808.3 L1691.4,803.8 L1693.3,799.2 L1695.3,794.6 L1697.2,790.1 L1699.1,785.6 L1701.1,781.1 L1703.1,776.6 L1705.1,772.2 L1707.1,767.9 L1709.2,763.7 L1711.4,759.6 L1713.4,755.9 L1715.4,752.3 L1717.4,748.8 L1719.5,745.2 L1721.5,741.8 L1723.6,738.4 L1725.8,735.0 L1727.9,731.7 L1730.2,728.5 L1732.4,725.3 L1734.7,722.2 L1737.1,719.2 L1739.3,716.4 L1741.6,713.7 L1743.9,711.0 L1746.3,708.4 L1748.6,705.8 L1751.1,703.3 L1753.5,700.9 L1756.0,698.5 L1758.6,696.2 L1761.2,694.0 L1763.8,691.9 L1766.5,689.8 L1769.2,687.9 L1771.9,686.1 L1774.7,684.3 L1777.6,682.7 L1780.5,681.1 L1783.4,679.6 L1786.4,678.1 L1789.4,676.7 L1792.4,675.3 L1795.4,674.0 L1798.4,672.7 L1801.4,671.4 L1804.4,670.2 L1807.3,669.0 L1810.3,667.9 L1813.2,666.9 L1816.2,665.9 L1819.2,664.9 L1822.3,664.0 L1825.3,663.0 L1828.4,662.1 L1831.6,661.3 L1834.8,660.4 L1838.1,659.5 L1842.0,658.5 L1845.9,657.5 L1849.9,656.6 L1854.0,655.6 L1858.2,654.7 L1862.4,653.8 L1866.6,653.0 L1870.8,652.1 L1875.1,651.3 L1879.4,650.5 L1883.7,649.8 L1888.0,649.0 L1892.5,648.2 L1896.9,647.5 L1901.4,646.8 L1905.9,646.2 L1910.4,645.6 L1915.0,644.9 L1919.5,644.3 L1924.2,643.7 L1928.8,643.1 L1933.6,642.5 L1938.4,641.9 L1943.3,641.3 L1949.1,640.6 L1955.0,639.8 L1961.1,639.1 L1967.2,638.3 L1973.4,637.6 L1979.7,636.8 L1986.0,636.1 L1992.3,635.3 L1998.5,634.6 L2004.7,633.9 L2010.8,633.1 L2016.8,632.4 L2022.3,631.7 L2027.8,631.0 L2033.2,630.4 L2038.5,629.7 L2043.9,629.0 L2049.2,628.3 L2054.5,627.7 L2059.8,627.0 L2065.1,626.3 L2070.4,625.6 L2075.7,625.0 L2081.0,624.3" fill="none" stroke="#ff0000" stroke-width="10.8" stroke-linejoin="round" stroke-linecap="round"/>
<path d="M426.0,1282.1 L426.8,1281.8 L427.6,1281.6 L428.4,1281.3 L429.1,1281.0 L429.9,1280.7 L430.6,1280.4 L431.4,1280.1 L432.2,1279.8 L433.1,1279.5 L434.0,1279.2 L435.0,1278.9 L436.0,1278.5 L438.1,1277.8 L440.4,1277.0 L443.0,1276.2 L445.7,1275.3 L448.5,1274.3 L451.5,1273.4 L454.5,1272.4 L457.5,1271.4 L460.5,1270.5 L463.4,1269.6 L466.2,1268.8 L468.9,1268.0 L471.2,1267.4 L473.5,1266.8 L475.7,1266.2 L478.0,1265.6 L480.2,1265.1 L482.4,1264.5 L484.6,1264.0 L486.7,1263.5 L488.9,1263.0 L491.1,1262.5 L493.2,1262.0 L495.4,1261.5 L497.4,1261.0 L499.4,1260.6 L501.3,1260.2 L503.2,1259.7 L505.1,1259.3 L507.0,1258.9 L509.0,1258.5 L511.0,1258.0 L513.1,1257.6 L515.2,1257.1 L517.5,1256.6 L520.0,1256.0 L524.3,1255.0 L529.0,1253.8 L534.1,1252.6 L539.4,1251.3 L544.9,1249.9 L550.6,1248.5 L556.3,1247.0 L562.2,1245.6 L568.0,1244.1 L573.8,1242.7 L579.5,1241.3 L585.0,1240.0 L590.3,1238.7 L595.6,1237.5 L600.8,1236.3 L605.9,1235.1 L611.1,1233.9 L616.2,1232.8 L621.5,1231.6 L626.8,1230.4 L632.3,1229.2 L638.0,1227.9 L643.9,1226.7 L650.0,1225.4 L658.7,1223.6 L667.9,1221.7 L677.4,1219.8 L687.3,1217.9 L697.4,1215.9 L707.7,1214.0 L718.1,1212.0 L728.6,1210.0 L739.1,1207.9 L749.6,1205.9 L759.9,1204.0 L770.0,1202.0 L780.0,1200.1 L790.0,1198.1 L800.0,1196.2 L810.0,1194.2 L820.0,1192.3 L830.0,1190.3 L840.0,1188.4 L850.0,1186.4 L860.0,1184.5 L870.0,1182.5 L880.0,1180.6 L890.0,1178.6 L900.1,1176.6 L910.2,1174.7 L920.4,1172.7 L930.6,1170.7 L940.9,1168.7 L951.1,1166.7 L961.2,1164.7 L971.3,1162.7 L981.2,1160.8 L991.0,1158.8 L1000.6,1156.9 L1010.0,1155.0 L1018.1,1153.4 L1026.2,1151.7 L1034.3,1150.0 L1042.3,1148.4 L1050.3,1146.7 L1058.1,1145.1 L1065.7,1143.5 L1073.2,1141.9 L1080.4,1140.4 L1087.2,1138.9 L1093.8,1137.4 L1100.0,1136.0 L1103.9,1135.1 L1107.6,1134.4 L1111.2,1133.7 L1114.6,1133.1 L1117.9,1132.4 L1121.1,1131.8 L1124.2,1131.1 L1127.3,1130.4 L1130.4,1129.5 L1133.6,1128.5 L1136.7,1127.3 L1140.0,1126.0 L1143.8,1124.2 L1147.6,1122.3 L1151.4,1120.1 L1155.2,1117.8 L1159.0,1115.4 L1162.8,1112.8 L1166.5,1110.2 L1170.3,1107.5 L1174.0,1104.7 L1177.6,1101.9 L1181.2,1099.1 L1184.8,1096.3 L1188.3,1093.4 L1191.8,1090.4 L1195.1,1087.3 L1198.5,1084.0 L1201.8,1080.8 L1205.0,1077.5 L1208.3,1074.2 L1211.6,1070.9 L1214.9,1067.7 L1218.2,1064.6 L1221.6,1061.6 L1225.0,1058.8 L1228.3,1056.2 L1231.6,1053.8 L1235.0,1051.5 L1238.4,1049.2 L1241.8,1047.0 L1245.3,1044.8 L1248.7,1042.6 L1252.1,1040.4 L1255.6,1038.2 L1259.0,1036.0 L1262.4,1033.6 L1265.7,1031.2 L1269.1,1028.6 L1272.5,1026.0 L1275.9,1023.3 L1279.2,1020.6 L1282.6,1017.8 L1285.9,1015.1 L1289.3,1012.3 L1292.6,1009.5 L1296.0,1006.6 L1299.3,1003.8 L1302.7,1001.0 L1306.1,998.2 L1309.6,995.3 L1313.1,992.3 L1316.7,989.4 L1320.2,986.4 L1323.7,983.4 L1327.3,980.3 L1330.8,977.4 L1334.4,974.4 L1338.0,971.4 L1341.6,968.5 L1345.3,965.7 L1349.0,962.9 L1352.8,960.2 L1356.6,957.4 L1360.5,954.8 L1364.4,952.1 L1368.4,949.5 L1372.3,946.9 L1376.3,944.3 L1380.2,941.8 L1384.1,939.3 L1387.9,936.9 L1391.6,934.5 L1395.3,932.1 L1398.4,930.1 L1401.4,928.2 L1404.3,926.4 L1407.3,924.6 L1410.1,922.9 L1413.0,921.1 L1415.9,919.4 L1418.7,917.6 L1421.6,915.8 L1424.6,913.9 L1427.5,912.0 L1430.6,910.0 L1434.2,907.6 L1438.0,905.1 L1441.9,902.5 L1445.8,899.9 L1449.7,897.3 L1453.7,894.6 L1457.6,891.8 L1461.5,889.1 L1465.3,886.3 L1469.0,883.5 L1472.6,880.8 L1476.0,878.0 L1478.9,875.5 L1481.8,873.0 L1484.7,870.4 L1487.5,867.8 L1490.2,865.2 L1492.9,862.6 L1495.5,860.0 L1498.0,857.5 L1500.5,855.0 L1502.8,852.6 L1504.9,850.2 L1507.0,848.0 L1508.3,846.5 L1509.6,845.2 L1510.8,843.9 L1511.9,842.6 L1512.9,841.4 L1514.0,840.1 L1515.0,838.9 L1516.0,837.6 L1517.0,836.3 L1518.0,835.0 L1519.0,833.5 L1520.0,832.0 L1521.3,830.0 L1522.5,827.9 L1523.8,825.7 L1525.0,823.4 L1526.2,821.1 L1527.4,818.7 L1528.6,816.3 L1529.8,813.8 L1531.1,811.4 L1532.4,808.9 L1533.7,806.4 L1535.0,804.0 L1536.5,801.3 L1538.1,798.5 L1539.8,795.7 L1541.4,792.8 L1543.1,789.9 L1544.8,787.0 L1546.5,784.2 L1548.2,781.3 L1549.9,778.4 L1551.6,775.6 L1553.3,772.8 L1555.0,770.0 L1556.6,767.4 L1558.2,764.9 L1559.8,762.3 L1561.5,759.8 L1563.1,757.3 L1564.7,754.8 L1566.3,752.3 L1567.9,749.8 L1569.4,747.3 L1570.9,744.8 L1572.3,742.3 L1573.6,739.8 L1574.7,737.5 L1575.7,735.1 L1576.6,732.7 L1577.4,730.3 L1578.2,727.9 L1579.0,725.5 L1579.7,723.1 L1580.6,720.8 L1581.4,718.5 L1582.4,716.3 L1583.5,714.2 L1584.7,712.2 L1585.9,710.4 L1587.3,708.6 L1588.7,706.9 L1590.1,705.3 L1591.7,703.6 L1593.2,702.1 L1594.8,700.6 L1596.4,699.1 L1598.1,697.7 L1599.7,696.4 L1601.4,695.1 L1603.0,693.9 L1604.5,692.9 L1605.9,692.0 L1607.4,691.1 L1608.9,690.3 L1610.4,689.6 L1612.0,688.8 L1613.5,688.1 L1615.0,687.5 L1616.6,686.8 L1618.2,686.1 L1619.8,685.4 L1621.4,684.7 L1623.1,683.9 L1624.9,683.1 L1626.6,682.2 L1628.3,681.4 L1630.1,680.6 L1631.8,679.8 L1633.6,679.0 L1635.5,678.2 L1637.4,677.5 L1639.3,676.8 L1641.3,676.1 L1643.4,675.5 L1646.1,674.8 L1648.9,674.2 L1651.8,673.7 L1654.7,673.2 L1657.8,672.8 L1660.9,672.4 L1664.0,672.0 L1667.2,671.6 L1670.4,671.3 L1673.7,670.9 L1676.9,670.5 L1680.2,670.0 L1684.0,669.4 L1687.9,668.9 L1691.9,668.3 L1696.0,667.6 L1700.1,667.0 L1704.2,666.4 L1708.3,665.8 L1712.4,665.2 L1716.4,664.7 L1720.4,664.1 L1724.2,663.6 L1727.9,663.2 L1730.8,662.9 L1733.7,662.6 L1736.4,662.4 L1739.1,662.1 L1741.8,661.9 L1744.4,661.7 L1747.0,661.5 L1749.7,661.4 L1752.4,661.1 L1755.2,660.9 L1758.0,660.7 L1761.0,660.4 L1764.8,660.0 L1768.8,659.6 L1772.8,659.2 L1777.0,658.7 L1781.3,658.3 L1785.6,657.8 L1789.9,657.3 L1794.2,656.8 L1798.4,656.3 L1802.6,655.8 L1806.7,655.4 L1810.6,654.9 L1814.0,654.5 L1817.3,654.1 L1820.7,653.7 L1824.0,653.3 L1827.2,652.9 L1830.4,652.5 L1833.6,652.1 L1836.8,651.7 L1839.9,651.3 L1843.0,651.0 L1846.1,650.6 L1849.1,650.3 L1851.8,650.0 L1854.3,649.8 L1856.8,649.5 L1859.2,649.3 L1861.7,649.1 L1864.1,648.9 L1866.5,648.7 L1869.0,648.5 L1871.6,648.3 L1874.3,648.0 L1877.1,647.8 L1880.0,647.5 L1884.5,647.1 L1889.2,646.6 L1894.1,646.2 L1899.3,645.7 L1904.5,645.2 L1910.0,644.7 L1915.5,644.2 L1921.0,643.6 L1926.6,643.0 L1932.2,642.5 L1937.8,641.9 L1943.3,641.3 L1949.3,640.6 L1955.3,639.9 L1961.4,639.2 L1967.6,638.5 L1973.8,637.7 L1980.0,637.0 L1986.3,636.2 L1992.5,635.4 L1998.6,634.7 L2004.8,633.9 L2010.8,633.1 L2016.8,632.4 L2022.3,631.7 L2027.8,631.0 L2033.2,630.4 L2038.5,629.7 L2043.9,629.0 L2049.2,628.3 L2054.5,627.7 L2059.8,627.0 L2065.1,626.3 L2070.4,625.6 L2075.7,625.0 L2081.0,624.3" fill="none" stroke="#ff0000" stroke-width="10.8" stroke-linejoin="round" stroke-linecap="round"/>
<circle cx="461.0" cy="1275.8" r="9.8" fill="#ff0000"/>
<circle cx="507.0" cy="1265.2" r="9.8" fill="#ff0000"/>
<circle cx="548.0" cy="1255.4" r="9.8" fill="#ff0000"/>
<circle cx="595.0" cy="1244.0" r="9.8" fill="#ff0000"/>
<circle cx="635.0" cy="1234.9" r="9.8" fill="#ff0000"/>
<circle cx="678.0" cy="1226.0" r="9.8" fill="#ff0000"/>
<circle cx="721.0" cy="1217.7" r="9.8" fill="#ff0000"/>
<circle cx="762.0" cy="1209.9" r="9.8" fill="#ff0000"/>
<circle cx="800.0" cy="1202.5" r="9.8" fill="#ff0000"/>
<circle cx="845.0" cy="1193.7" r="9.8" fill="#ff0000"/>
<circle cx="882.0" cy="1186.5" r="9.8" fill="#ff0000"/>
<circle cx="934.0" cy="1176.3" r="9.8" fill="#ff0000"/>
<circle cx="972.0" cy="1168.9" r="9.8" fill="#ff0000"/>
<circle cx="1008.0" cy="1161.7" r="9.8" fill="#ff0000"/>
<circle cx="1050.0" cy="1153.1" r="9.8" fill="#ff0000"/>
<circle cx="1095.0" cy="1143.4" r="9.8" fill="#ff0000"/>
<circle cx="1144.0" cy="1131.4" r="9.8" fill="#ff0000"/>
<circle cx="1195.0" cy="1120.8" r="9.8" fill="#ff0000"/>
<circle cx="1268.6" cy="1104.3" r="9.8" fill="#ff0000"/>
<circle cx="1341.3" cy="1087.7" r="9.8" fill="#ff0000"/>
<circle cx="1415.2" cy="1069.0" r="9.8" fill="#ff0000"/>
<circle cx="1489.0" cy="1047.0" r="9.8" fill="#ff0000"/>
<circle cx="1569.4" cy="1013.3" r="9.8" fill="#ff0000"/>
<circle cx="435.0" cy="1278.6" r="9.8" fill="#ff0000"/>
<circle cx="513.0" cy="1257.3" r="9.8" fill="#ff0000"/>
<circle cx="585.0" cy="1239.7" r="9.8" fill="#ff0000"/>
<circle cx="667.0" cy="1221.6" r="9.8" fill="#ff0000"/>
<circle cx="737.0" cy="1208.1" r="9.8" fill="#ff0000"/>
<circle cx="810.0" cy="1193.9" r="9.8" fill="#ff0000"/>
<circle cx="887.0" cy="1178.9" r="9.8" fill="#ff0000"/>
<circle cx="962.0" cy="1164.3" r="9.8" fill="#ff0000"/>
<circle cx="1037.0" cy="1149.2" r="9.8" fill="#ff0000"/>
<circle cx="1117.0" cy="1132.3" r="9.8" fill="#ff0000"/>
<circle cx="1184.8" cy="1096.3" r="9.8" fill="#ff0000"/>
<circle cx="1225.0" cy="1058.8" r="9.8" fill="#ff0000"/>
<circle cx="1265.7" cy="1031.2" r="9.8" fill="#ff0000"/>
<circle cx="1306.1" cy="998.2" r="9.8" fill="#ff0000"/>
<circle cx="1349.0" cy="962.9" r="9.8" fill="#ff0000"/>
<circle cx="1395.3" cy="932.1" r="9.8" fill="#ff0000"/>
<circle cx="1430.6" cy="910.0" r="9.8" fill="#ff0000"/>
<circle cx="1476.0" cy="878.0" r="9.8" fill="#ff0000"/>
<circle cx="1520.0" cy="832.0" r="9.8" fill="#ff0000"/>
<circle cx="1643.4" cy="675.5" r="9.8" fill="#ff0000"/>
<circle cx="1680.2" cy="670.0" r="9.8" fill="#ff0000"/>
<circle cx="1727.9" cy="663.2" r="9.8" fill="#ff0000"/>
<circle cx="1761.0" cy="660.4" r="9.8" fill="#ff0000"/>
<circle cx="1811.0" cy="653.9" r="9.8" fill="#ff0000"/>
<circle cx="1849.6" cy="649.2" r="9.8" fill="#ff0000"/>
<circle cx="1876.3" cy="646.8" r="9.8" fill="#ff0000"/>
<circle cx="1893.7" cy="645.2" r="9.8" fill="#ff0000"/>
<circle cx="1930.9" cy="641.6" r="9.8" fill="#ff0000"/>
<circle cx="1947.9" cy="639.8" r="9.8" fill="#ff0000"/>
<circle cx="1978.2" cy="636.2" r="9.8" fill="#ff0000"/>
<circle cx="2022.9" cy="630.6" r="9.8" fill="#ff0000"/>
<circle cx="2062.0" cy="625.7" r="9.8" fill="#ff0000"/>
<circle cx="2096.1" cy="621.8" r="9.8" fill="#ff0000"/>
<circle cx="283.0" cy="1385.8" r="9.8" fill="#ff0000"/>
<circle cx="1640.5" cy="942.0" r="9.8" fill="#ff0000"/>
<circle cx="1713.2" cy="717.3" r="9.8" fill="#ff0000"/>
<circle cx="1599.4" cy="690.0" r="9.8" fill="#ff0000"/>
<circle cx="370.1" cy="1297.3" r="9.8" fill="#ff0000"/>
<circle cx="1792.2" cy="669.6" r="9.8" fill="#ff0000"/></g>
<g><path d="M281.9,1346.9 L282.7,1345.7 L283.6,1344.5 L284.4,1343.2 L285.3,1342.0 L286.1,1340.8 L286.9,1339.6 L287.8,1338.4 L288.6,1337.2 L289.5,1335.9 L290.3,1334.7 L291.2,1333.3 L292.1,1332.0 L293.2,1330.4 L294.2,1328.7 L295.3,1326.9 L296.4,1325.1 L297.5,1323.3 L298.6,1321.5 L299.7,1319.6 L300.9,1317.8 L302.0,1316.0 L303.1,1314.2 L304.3,1312.4 L305.4,1310.7 L306.5,1309.1 L307.6,1307.5 L308.7,1305.9 L309.8,1304.4 L310.9,1302.8 L312.0,1301.3 L313.1,1299.8 L314.2,1298.2 L315.3,1296.7 L316.5,1295.2 L317.6,1293.7 L318.7,1292.2 L319.8,1290.7 L320.9,1289.3 L321.9,1287.8 L323.0,1286.4 L324.1,1284.9 L325.2,1283.5 L326.3,1282.1 L327.4,1280.6 L328.5,1279.2 L329.6,1277.8 L330.7,1276.3 L331.9,1274.9 L333.1,1273.4 L334.3,1271.9 L335.5,1270.5 L336.8,1269.0 L338.0,1267.6 L339.3,1266.1 L340.6,1264.6 L341.8,1263.2 L343.2,1261.7 L344.5,1260.1 L345.9,1258.6 L347.3,1257.0 L349.0,1255.0 L350.8,1253.0 L352.7,1250.9 L354.6,1248.8 L356.5,1246.6 L358.5,1244.4 L360.5,1242.3 L362.5,1240.1 L364.5,1238.0 L366.4,1235.9 L368.4,1233.9 L370.4,1232.0 L372.2,1230.3 L374.0,1228.6 L375.8,1227.0 L377.6,1225.4 L379.4,1223.8 L381.2,1222.3 L383.0,1220.7 L384.9,1219.2 L386.7,1217.8 L388.6,1216.3 L390.4,1214.9 L392.3,1213.5 L394.1,1212.2 L396.0,1210.9 L397.9,1209.6 L399.8,1208.4 L401.7,1207.2 L403.6,1206.0 L405.5,1204.8 L407.4,1203.7 L409.3,1202.5 L411.2,1201.4 L413.0,1200.3 L414.8,1199.2 L416.3,1198.2 L417.8,1197.2 L419.3,1196.3 L420.8,1195.3 L422.2,1194.3 L423.6,1193.4 L425.0,1192.5 L426.5,1191.6 L428.0,1190.7 L429.5,1189.9 L431.0,1189.2 L432.6,1188.5 L434.3,1187.8 L436.0,1187.2 L437.7,1186.7 L439.4,1186.2 L441.1,1185.8 L442.9,1185.4 L444.7,1185.0 L446.6,1184.6 L448.5,1184.2 L450.6,1183.7 L452.7,1183.3 L455.0,1182.7 L459.0,1181.7 L463.2,1180.7 L467.8,1179.6 L472.5,1178.5 L477.5,1177.3 L482.7,1176.0 L487.9,1174.8 L493.3,1173.5 L498.7,1172.1 L504.2,1170.7 L509.6,1169.3 L515.0,1167.8 L521.3,1166.0 L527.9,1164.1 L534.6,1162.1 L541.4,1160.0 L548.2,1157.9 L555.2,1155.7 L562.1,1153.5 L569.0,1151.3 L575.8,1149.1 L582.6,1147.0 L589.2,1144.8 L595.6,1142.8 L601.2,1141.0 L606.6,1139.3 L611.8,1137.6 L617.0,1135.9 L622.1,1134.2 L627.2,1132.5 L632.3,1130.8 L637.5,1129.1 L642.8,1127.4 L648.3,1125.7 L654.0,1123.9 L660.0,1122.0 L668.1,1119.5 L676.6,1116.9 L685.3,1114.3 L694.3,1111.6 L703.5,1108.9 L712.8,1106.2 L722.3,1103.4 L731.9,1100.6 L741.5,1097.8 L751.0,1095.0 L760.6,1092.2 L770.0,1089.5 L779.8,1086.6 L789.8,1083.8 L799.7,1080.9 L809.8,1078.0 L819.9,1075.1 L830.0,1072.2 L840.1,1069.3 L850.2,1066.5 L860.2,1063.6 L870.2,1060.7 L880.2,1057.8 L890.0,1055.0 L899.4,1052.3 L908.7,1049.6 L918.0,1046.8 L927.2,1044.1 L936.4,1041.4 L945.6,1038.7 L954.8,1036.0 L963.9,1033.3 L973.0,1030.7 L982.0,1028.0 L991.0,1025.4 L1000.0,1022.8 L1008.5,1020.3 L1017.0,1017.9 L1025.5,1015.4 L1034.0,1013.0 L1042.4,1010.6 L1050.8,1008.2 L1059.1,1005.8 L1067.4,1003.4 L1075.7,1001.1 L1083.8,998.9 L1092.0,996.7 L1100.0,994.5 L1107.3,992.6 L1114.5,990.8 L1121.7,989.0 L1128.8,987.3 L1135.8,985.7 L1142.9,984.0 L1149.8,982.4 L1156.8,980.7 L1163.8,979.0 L1170.8,977.2 L1177.8,975.4 L1184.8,973.5 L1191.9,971.5 L1199.0,969.4 L1206.1,967.3 L1213.3,965.1 L1220.4,962.9 L1227.5,960.7 L1234.6,958.4 L1241.7,956.1 L1248.7,953.8 L1255.7,951.6 L1262.7,949.3 L1269.7,947.0 L1276.4,944.8 L1283.2,942.6 L1289.9,940.4 L1296.7,938.2 L1303.4,935.9 L1310.0,933.7 L1316.7,931.4 L1323.3,929.2 L1329.8,926.9 L1336.3,924.6 L1342.7,922.3 L1349.0,920.0 L1354.7,917.8 L1360.4,915.7 L1366.0,913.5 L1371.6,911.3 L1377.1,909.1 L1382.6,906.9 L1388.0,904.7 L1393.4,902.4 L1398.8,900.2 L1404.2,898.0 L1409.6,895.7 L1415.0,893.5 L1420.3,891.3 L1425.5,889.1 L1430.8,886.9 L1436.0,884.6 L1441.2,882.4 L1446.4,880.2 L1451.6,877.9 L1456.7,875.7 L1461.8,873.5 L1466.9,871.3 L1471.9,869.1 L1476.9,867.0 L1481.5,865.0 L1486.0,863.1 L1490.5,861.2 L1495.0,859.2 L1499.5,857.3 L1503.9,855.4 L1508.3,853.5 L1512.7,851.6 L1517.0,849.8 L1521.3,848.0 L1525.5,846.2 L1529.6,844.5 L1533.2,843.0 L1536.7,841.6 L1540.2,840.3 L1543.7,839.0 L1547.1,837.7 L1550.5,836.4 L1553.8,835.1 L1557.1,833.8 L1560.4,832.4 L1563.6,831.0 L1566.8,829.5 L1570.0,828.0 L1572.9,826.5 L1575.8,825.0 L1578.7,823.4 L1581.6,821.8 L1584.4,820.2 L1587.1,818.5 L1589.9,816.8 L1592.6,815.1 L1595.2,813.3 L1597.8,811.5 L1600.4,809.6 L1603.0,807.7 L1605.5,805.8 L1608.0,803.8 L1610.4,801.7 L1612.8,799.6 L1615.2,797.4 L1617.6,795.3 L1619.9,793.1 L1622.1,790.9 L1624.3,788.6 L1626.5,786.4 L1628.6,784.2 L1630.6,782.0 L1632.3,780.1 L1634.0,778.1 L1635.7,776.2 L1637.3,774.3 L1638.8,772.4 L1640.3,770.5 L1641.8,768.5 L1643.3,766.6 L1644.7,764.5 L1646.1,762.5 L1647.6,760.3 L1649.0,758.1 L1650.6,755.5 L1652.2,752.8 L1653.8,750.0 L1655.4,747.2 L1656.9,744.3 L1658.4,741.4 L1659.9,738.4 L1661.4,735.4 L1662.9,732.4 L1664.4,729.3 L1665.8,726.3 L1667.3,723.2 L1668.9,719.8 L1670.5,716.3 L1672.1,712.6 L1673.7,708.9 L1675.3,705.2 L1676.8,701.5 L1678.4,697.8 L1679.9,694.1 L1681.4,690.6 L1682.9,687.2 L1684.3,684.0 L1685.7,681.0 L1686.7,679.0 L1687.6,677.1 L1688.5,675.4 L1689.4,673.7 L1690.3,672.1 L1691.1,670.5 L1692.0,668.9 L1692.8,667.3 L1693.7,665.6 L1694.5,663.8 L1695.4,662.0 L1696.3,660.0 L1697.5,657.2 L1698.7,654.3 L1699.9,651.3 L1701.1,648.2 L1702.4,645.0 L1703.6,641.7 L1704.8,638.3 L1706.0,634.8 L1707.3,631.3 L1708.5,627.6 L1709.8,623.9 L1711.0,620.0 L1712.7,614.5 L1714.4,608.7 L1716.2,602.7 L1718.0,596.4 L1719.7,589.9 L1721.5,583.3 L1723.3,576.7 L1725.0,570.0 L1726.8,563.3 L1728.6,556.6 L1730.3,550.1 L1732.0,543.7 L1733.7,537.5 L1735.3,531.3 L1737.0,525.0 L1738.7,518.7 L1740.3,512.4 L1742.0,506.2 L1743.6,500.0 L1745.2,493.9 L1746.8,487.8 L1748.4,481.8 L1750.0,475.9 L1751.5,470.2 L1752.8,465.2 L1754.1,460.2 L1755.4,455.1 L1756.7,450.0 L1758.0,445.0 L1759.3,440.1 L1760.6,435.3 L1761.8,430.7 L1763.0,426.4 L1764.2,422.3 L1765.4,418.5 L1766.5,415.1 L1767.1,413.4 L1767.7,411.9 L1768.3,410.5 L1768.8,409.2 L1769.4,408.1 L1770.0,406.9 L1770.5,405.7 L1771.1,404.5 L1771.6,403.3 L1772.2,401.9 L1772.9,400.4 L1773.5,398.7 L1774.7,395.2 L1776.0,391.3 L1777.3,386.9 L1778.6,382.3 L1780.0,377.4 L1781.4,372.4 L1782.8,367.3 L1784.3,362.3 L1785.8,357.3 L1787.4,352.4 L1788.9,347.9 L1790.5,343.6 L1791.8,340.2 L1793.2,336.9 L1794.6,333.6 L1796.0,330.4 L1797.4,327.3 L1798.8,324.2 L1800.2,321.2 L1801.7,318.2 L1803.2,315.3 L1804.8,312.5 L1806.3,309.6 L1807.9,306.9 L1809.3,304.5 L1810.7,302.2 L1812.1,299.9 L1813.5,297.7 L1815.0,295.5 L1816.5,293.4 L1818.0,291.3 L1819.5,289.2 L1821.1,287.1 L1822.8,285.1 L1824.5,283.2 L1826.3,281.2 L1828.3,279.2 L1830.3,277.1 L1832.4,275.1 L1834.6,273.1 L1836.8,271.2 L1839.1,269.3 L1841.4,267.4 L1843.8,265.6 L1846.2,263.9 L1848.7,262.3 L1851.2,260.7 L1853.8,259.2 L1856.6,257.7 L1859.5,256.4 L1862.4,255.2 L1865.5,254.0 L1868.5,252.9 L1871.7,251.9 L1874.8,250.9 L1878.0,249.9 L1881.2,249.0 L1884.3,248.1 L1887.5,247.2 L1890.6,246.3 L1893.7,245.4 L1896.8,244.5 L1899.9,243.7 L1903.1,242.9 L1906.3,242.1 L1909.5,241.4 L1912.6,240.6 L1915.7,239.9 L1918.7,239.2 L1921.7,238.5 L1924.5,237.8 L1927.3,237.1 L1929.4,236.6 L1931.4,236.0 L1933.3,235.5 L1935.2,235.0 L1937.0,234.5 L1938.9,234.0 L1940.7,233.6 L1942.5,233.1 L1944.3,232.6 L1946.2,232.1 L1948.1,231.7 L1950.0,231.2 L1952.1,230.7 L1954.3,230.2 L1956.5,229.7 L1958.6,229.2 L1960.8,228.7 L1963.0,228.3 L1965.2,227.8 L1967.5,227.3 L1969.8,226.8 L1972.2,226.4 L1974.6,225.9 L1977.0,225.4 L1980.1,224.8 L1983.3,224.2 L1986.6,223.6 L1990.0,223.0 L1993.4,222.3 L1996.9,221.7 L2000.4,221.1 L2003.9,220.5 L2007.2,219.9 L2010.6,219.4 L2013.7,218.8 L2016.8,218.3 L2019.2,217.9 L2021.4,217.5 L2023.6,217.2 L2025.7,216.8 L2027.8,216.5 L2029.9,216.2 L2031.9,215.9 L2034.0,215.5 L2036.2,215.2 L2038.4,214.9 L2040.6,214.5 L2043.0,214.1 L2046.1,213.6 L2049.3,213.1 L2052.6,212.5 L2056.0,211.9 L2059.4,211.4 L2062.9,210.8 L2066.5,210.2 L2070.0,209.6 L2073.5,209.0 L2077.1,208.4 L2080.6,207.8 L2084.0,207.2" fill="none" stroke="#1410ff" stroke-width="10.8" stroke-linejoin="round" stroke-linecap="round"/>
<path d="M426.0,1192.2 L426.8,1191.6 L427.6,1191.1 L428.4,1190.6 L429.2,1190.1 L430.0,1189.6 L430.8,1189.1 L431.6,1188.6 L432.4,1188.1 L433.2,1187.5 L434.1,1187.0 L435.0,1186.5 L436.0,1186.0 L437.3,1185.3 L438.7,1184.6 L440.0,1183.9 L441.4,1183.1 L442.9,1182.4 L444.4,1181.7 L445.9,1181.0 L447.6,1180.2 L449.3,1179.5 L451.1,1178.8 L453.0,1178.0 L455.0,1177.3 L458.8,1176.0 L462.9,1174.8 L467.4,1173.6 L472.1,1172.4 L477.1,1171.2 L482.3,1169.9 L487.7,1168.7 L493.1,1167.4 L498.6,1166.1 L504.1,1164.7 L509.6,1163.3 L515.0,1161.8 L521.3,1160.0 L527.9,1158.0 L534.6,1156.0 L541.4,1153.9 L548.2,1151.8 L555.2,1149.6 L562.1,1147.5 L569.0,1145.3 L575.8,1143.1 L582.6,1140.9 L589.2,1138.8 L595.6,1136.8 L601.2,1135.0 L606.6,1133.3 L611.8,1131.6 L617.0,1129.9 L622.1,1128.2 L627.2,1126.5 L632.3,1124.8 L637.5,1123.1 L642.8,1121.4 L648.3,1119.7 L654.0,1117.9 L660.0,1116.0 L668.1,1113.5 L676.6,1110.9 L685.3,1108.3 L694.3,1105.6 L703.5,1102.9 L712.8,1100.2 L722.3,1097.4 L731.9,1094.6 L741.5,1091.8 L751.0,1089.0 L760.6,1086.2 L770.0,1083.5 L779.8,1080.6 L789.8,1077.8 L799.7,1074.9 L809.8,1072.0 L819.9,1069.1 L830.0,1066.2 L840.1,1063.3 L850.2,1060.5 L860.2,1057.6 L870.2,1054.7 L880.2,1051.8 L890.0,1049.0 L899.4,1046.3 L908.7,1043.6 L918.0,1040.8 L927.2,1038.1 L936.4,1035.4 L945.6,1032.7 L954.8,1030.0 L963.9,1027.3 L973.0,1024.7 L982.0,1022.0 L991.0,1019.4 L1000.0,1016.8 L1008.5,1014.3 L1017.0,1011.9 L1025.5,1009.4 L1034.0,1007.0 L1042.4,1004.6 L1050.8,1002.2 L1059.1,999.8 L1067.4,997.4 L1075.7,995.1 L1083.8,992.9 L1092.0,990.7 L1100.0,988.5 L1107.3,986.6 L1114.5,984.8 L1121.7,983.0 L1128.8,981.3 L1135.8,979.7 L1142.9,978.0 L1149.8,976.4 L1156.8,974.7 L1163.8,973.0 L1170.8,971.2 L1177.8,969.4 L1184.8,967.5 L1191.9,965.5 L1199.0,963.4 L1206.1,961.3 L1213.3,959.1 L1220.4,956.9 L1227.5,954.7 L1234.6,952.4 L1241.7,950.1 L1248.7,947.8 L1255.7,945.6 L1262.7,943.3 L1269.7,941.0 L1276.4,938.8 L1283.2,936.6 L1289.9,934.4 L1296.7,932.2 L1303.4,929.9 L1310.0,927.7 L1316.7,925.4 L1323.3,923.2 L1329.8,920.9 L1336.3,918.6 L1342.7,916.3 L1349.0,914.0 L1354.7,911.8 L1360.4,909.7 L1366.0,907.5 L1371.6,905.3 L1377.1,903.1 L1382.6,900.9 L1388.0,898.7 L1393.4,896.4 L1398.8,894.2 L1404.2,892.0 L1409.6,889.7 L1415.0,887.5 L1420.3,885.4 L1425.8,883.3 L1431.4,881.2 L1437.0,879.2 L1442.5,877.1 L1448.0,875.1 L1453.4,872.9 L1458.7,870.8 L1463.7,868.5 L1468.4,866.1 L1472.8,863.6 L1476.9,861.0 L1479.7,858.9 L1482.3,856.7 L1484.8,854.4 L1487.1,852.1 L1489.3,849.6 L1491.4,847.2 L1493.4,844.8 L1495.4,842.3 L1497.3,839.9 L1499.2,837.5 L1501.1,835.2 L1503.0,833.0 L1504.6,831.2 L1506.2,829.4 L1507.7,827.6 L1509.2,825.9 L1510.7,824.1 L1512.2,822.4 L1513.6,820.7 L1515.0,819.0 L1516.4,817.3 L1517.8,815.6 L1519.2,813.8 L1520.5,812.0 L1521.8,810.2 L1523.1,808.4 L1524.4,806.6 L1525.7,804.8 L1527.0,803.0 L1528.2,801.2 L1529.5,799.4 L1530.7,797.5 L1531.8,795.7 L1532.9,793.8 L1534.0,791.9 L1535.0,790.0 L1535.9,788.1 L1536.8,786.3 L1537.6,784.4 L1538.4,782.4 L1539.1,780.5 L1539.8,778.6 L1540.5,776.6 L1541.2,774.7 L1541.9,772.8 L1542.6,770.8 L1543.3,768.9 L1544.0,767.0 L1544.7,765.1 L1545.5,763.3 L1546.2,761.5 L1546.9,759.6 L1547.7,757.8 L1548.4,756.0 L1549.1,754.1 L1549.8,752.3 L1550.5,750.5 L1551.2,748.6 L1551.9,746.8 L1552.5,745.0 L1553.1,743.3 L1553.7,741.6 L1554.3,739.9 L1554.8,738.3 L1555.4,736.6 L1555.9,735.0 L1556.4,733.3 L1556.9,731.6 L1557.5,729.8 L1558.0,728.0 L1558.5,726.0 L1559.0,724.0 L1559.7,720.9 L1560.4,717.6 L1561.1,714.0 L1561.7,710.2 L1562.4,706.4 L1563.0,702.5 L1563.7,698.6 L1564.3,694.7 L1565.0,691.0 L1565.6,687.4 L1566.3,684.1 L1567.0,681.0 L1567.5,679.0 L1568.0,677.1 L1568.6,675.4 L1569.1,673.7 L1569.6,672.1 L1570.2,670.5 L1570.7,668.9 L1571.3,667.3 L1571.8,665.6 L1572.3,663.9 L1572.8,662.1 L1573.3,660.1 L1573.9,657.2 L1574.5,654.2 L1575.1,651.0 L1575.7,647.7 L1576.2,644.3 L1576.8,640.9 L1577.3,637.4 L1577.8,633.8 L1578.4,630.3 L1578.9,626.8 L1579.5,623.4 L1580.1,620.0 L1580.7,616.7 L1581.3,613.5 L1582.0,610.4 L1582.6,607.2 L1583.3,604.1 L1584.0,601.0 L1584.6,597.8 L1585.3,594.5 L1586.0,591.2 L1586.7,587.7 L1587.3,584.1 L1588.0,580.4 L1588.9,575.0 L1589.8,569.2 L1590.7,563.0 L1591.6,556.6 L1592.5,550.1 L1593.5,543.5 L1594.4,536.9 L1595.3,530.4 L1596.2,524.0 L1597.1,517.9 L1598.1,512.2 L1599.0,506.9 L1599.7,503.4 L1600.3,500.1 L1601.0,496.9 L1601.7,493.8 L1602.3,490.8 L1603.0,487.9 L1603.7,485.0 L1604.4,482.1 L1605.0,479.2 L1605.7,476.2 L1606.3,473.2 L1607.0,470.0 L1607.7,466.3 L1608.5,462.5 L1609.2,458.6 L1609.9,454.6 L1610.7,450.6 L1611.4,446.6 L1612.1,442.7 L1612.8,438.7 L1613.5,434.9 L1614.2,431.2 L1614.9,427.7 L1615.5,424.3 L1616.0,421.9 L1616.4,419.7 L1616.8,417.5 L1617.2,415.5 L1617.6,413.5 L1618.0,411.5 L1618.3,409.5 L1618.7,407.5 L1619.2,405.4 L1619.6,403.3 L1620.1,401.1 L1620.6,398.7 L1621.3,395.3 L1622.1,391.7 L1623.0,387.9 L1623.8,384.0 L1624.7,380.0 L1625.7,376.0 L1626.6,371.9 L1627.6,367.9 L1628.6,363.9 L1629.6,360.1 L1630.6,356.3 L1631.6,352.8 L1632.4,349.9 L1633.3,347.1 L1634.1,344.4 L1635.0,341.7 L1635.9,339.0 L1636.8,336.4 L1637.7,333.8 L1638.6,331.3 L1639.5,328.8 L1640.5,326.3 L1641.5,323.9 L1642.6,321.6 L1643.6,319.6 L1644.5,317.6 L1645.5,315.6 L1646.5,313.7 L1647.6,311.8 L1648.6,309.9 L1649.7,308.1 L1650.8,306.3 L1652.0,304.6 L1653.1,302.9 L1654.3,301.2 L1655.5,299.6 L1656.6,298.2 L1657.7,296.8 L1658.9,295.5 L1660.0,294.1 L1661.2,292.9 L1662.4,291.6 L1663.7,290.4 L1664.9,289.2 L1666.2,288.1 L1667.5,287.0 L1668.8,285.9 L1670.2,284.9 L1671.6,283.9 L1672.9,283.0 L1674.3,282.2 L1675.7,281.4 L1677.1,280.6 L1678.6,279.8 L1680.1,279.1 L1681.7,278.4 L1683.3,277.7 L1685.0,277.1 L1686.7,276.4 L1688.6,275.7 L1691.6,274.7 L1694.9,273.7 L1698.4,272.8 L1702.1,271.9 L1706.0,271.0 L1709.9,270.2 L1713.9,269.3 L1717.8,268.5 L1721.7,267.8 L1725.5,267.0 L1729.2,266.3 L1732.6,265.6 L1735.2,265.1 L1737.7,264.5 L1740.2,264.1 L1742.5,263.6 L1744.9,263.1 L1747.2,262.7 L1749.5,262.3 L1751.8,261.9 L1754.2,261.4 L1756.7,261.0 L1759.3,260.6 L1762.0,260.1 L1765.7,259.5 L1769.6,258.9 L1773.6,258.3 L1777.8,257.7 L1782.1,257.0 L1786.4,256.4 L1790.7,255.8 L1795.0,255.2 L1799.3,254.5 L1803.5,253.9 L1807.6,253.3 L1811.6,252.7 L1815.0,252.2 L1818.3,251.6 L1821.5,251.1 L1824.7,250.6 L1827.9,250.0 L1831.0,249.5 L1834.2,249.0 L1837.3,248.5 L1840.5,247.9 L1843.7,247.4 L1846.9,246.8 L1850.2,246.3 L1853.8,245.7 L1857.4,245.1 L1861.0,244.5 L1864.6,243.9 L1868.2,243.3 L1871.9,242.7 L1875.6,242.1 L1879.3,241.5 L1883.0,240.9 L1886.8,240.3 L1890.5,239.6 L1894.3,239.0 L1898.3,238.3 L1902.4,237.6 L1906.6,236.9 L1910.8,236.2 L1915.0,235.5 L1919.2,234.8 L1923.4,234.1 L1927.6,233.4 L1931.6,232.7 L1935.6,232.0 L1939.5,231.3 L1943.3,230.7 L1946.3,230.2 L1949.2,229.7 L1952.1,229.2 L1954.9,228.7 L1957.6,228.2 L1960.4,227.7 L1963.1,227.2 L1965.8,226.7 L1968.5,226.3 L1971.3,225.8 L1974.1,225.3 L1977.0,224.8 L1980.2,224.3 L1983.5,223.7 L1986.9,223.1 L1990.3,222.6 L1993.8,222.0 L1997.2,221.5 L2000.6,220.9 L2004.0,220.4 L2007.4,219.8 L2010.6,219.3 L2013.8,218.8 L2016.8,218.3 L2019.2,217.9 L2021.4,217.6 L2023.6,217.2 L2025.7,216.9 L2027.8,216.5 L2029.9,216.2 L2031.9,215.9 L2034.0,215.6 L2036.2,215.2 L2038.4,214.9 L2040.6,214.5 L2043.0,214.1 L2046.1,213.6 L2049.3,213.1 L2052.6,212.5 L2056.0,211.9 L2059.4,211.4 L2062.9,210.8 L2066.5,210.2 L2070.0,209.6 L2073.5,209.0 L2077.1,208.4 L2080.6,207.8 L2084.0,207.2" fill="none" stroke="#1410ff" stroke-width="10.8" stroke-linejoin="round" stroke-linecap="round"/>
<polygon points="461.0,1166.7 473.0,1188.7 449.0,1188.7" fill="#1410ff"/>
<polygon points="507.0,1155.5 519.0,1177.5 495.0,1177.5" fill="#1410ff"/>
<polygon points="548.0,1143.4 560.0,1165.4 536.0,1165.4" fill="#1410ff"/>
<polygon points="595.0,1128.5 607.0,1150.5 583.0,1150.5" fill="#1410ff"/>
<polygon points="635.0,1115.5 647.0,1137.5 623.0,1137.5" fill="#1410ff"/>
<polygon points="678.0,1102.0 690.0,1124.0 666.0,1124.0" fill="#1410ff"/>
<polygon points="721.0,1089.3 733.0,1111.3 709.0,1111.3" fill="#1410ff"/>
<polygon points="762.0,1077.3 774.0,1099.3 750.0,1099.3" fill="#1410ff"/>
<polygon points="800.0,1066.3 812.0,1088.3 788.0,1088.3" fill="#1410ff"/>
<polygon points="845.0,1053.4 857.0,1075.4 833.0,1075.4" fill="#1410ff"/>
<polygon points="882.0,1042.8 894.0,1064.8 870.0,1064.8" fill="#1410ff"/>
<polygon points="934.0,1027.6 946.0,1049.6 922.0,1049.6" fill="#1410ff"/>
<polygon points="972.0,1016.4 984.0,1038.4 960.0,1038.4" fill="#1410ff"/>
<polygon points="1008.0,1006.0 1020.0,1028.0 996.0,1028.0" fill="#1410ff"/>
<polygon points="1050.0,993.9 1062.0,1015.9 1038.0,1015.9" fill="#1410ff"/>
<polygon points="1095.0,981.3 1107.0,1003.3 1083.0,1003.3" fill="#1410ff"/>
<polygon points="1144.0,971.6 1156.0,993.6 1132.0,993.6" fill="#1410ff"/>
<polygon points="1195.0,958.4 1207.0,980.4 1183.0,980.4" fill="#1410ff"/>
<polygon points="1268.6,935.2 1280.6,957.2 1256.6,957.2" fill="#1410ff"/>
<polygon points="1341.3,910.6 1353.3,932.6 1329.3,932.6" fill="#1410ff"/>
<polygon points="1415.2,881.2 1427.2,903.2 1403.2,903.2" fill="#1410ff"/>
<polygon points="1489.0,849.6 1501.0,871.6 1477.0,871.6" fill="#1410ff"/>
<polygon points="1569.4,816.1 1581.4,838.1 1557.4,838.1" fill="#1410ff"/>
<polygon points="435.0,1173.7 447.0,1195.7 423.0,1195.7" fill="#1410ff"/>
<polygon points="513.0,1149.5 525.0,1171.5 501.0,1171.5" fill="#1410ff"/>
<polygon points="585.0,1127.4 597.0,1149.4 573.0,1149.4" fill="#1410ff"/>
<polygon points="667.0,1101.1 679.0,1123.1 655.0,1123.1" fill="#1410ff"/>
<polygon points="737.0,1080.3 749.0,1102.3 725.0,1102.3" fill="#1410ff"/>
<polygon points="810.0,1059.2 822.0,1081.2 798.0,1081.2" fill="#1410ff"/>
<polygon points="887.0,1037.1 899.0,1059.1 875.0,1059.1" fill="#1410ff"/>
<polygon points="962.0,1015.1 974.0,1037.1 950.0,1037.1" fill="#1410ff"/>
<polygon points="1037.0,993.3 1049.0,1015.3 1025.0,1015.3" fill="#1410ff"/>
<polygon points="1117.0,971.4 1129.0,993.4 1105.0,993.4" fill="#1410ff"/>
<polygon points="1184.8,955.0 1196.8,977.0 1172.8,977.0" fill="#1410ff"/>
<polygon points="1225.0,943.0 1237.0,965.0 1213.0,965.0" fill="#1410ff"/>
<polygon points="1265.7,929.8 1277.7,951.8 1253.7,951.8" fill="#1410ff"/>
<polygon points="1306.1,916.5 1318.1,938.5 1294.1,938.5" fill="#1410ff"/>
<polygon points="1349.0,901.5 1361.0,923.5 1337.0,923.5" fill="#1410ff"/>
<polygon points="1395.3,883.2 1407.3,905.2 1383.3,905.2" fill="#1410ff"/>
<polygon points="1430.6,869.0 1442.6,891.0 1418.6,891.0" fill="#1410ff"/>
<polygon points="1476.0,849.1 1488.0,871.1 1464.0,871.1" fill="#1410ff"/>
<polygon points="1520.0,800.2 1532.0,822.2 1508.0,822.2" fill="#1410ff"/>
<polygon points="1688.6,263.2 1700.6,285.2 1676.6,285.2" fill="#1410ff"/>
<polygon points="1732.6,253.1 1744.6,275.1 1720.6,275.1" fill="#1410ff"/>
<polygon points="1762.0,247.6 1774.0,269.6 1750.0,269.6" fill="#1410ff"/>
<polygon points="1811.0,239.3 1823.0,261.3 1799.0,261.3" fill="#1410ff"/>
<polygon points="1849.6,232.9 1861.6,254.9 1837.6,254.9" fill="#1410ff"/>
<polygon points="1880.0,227.9 1892.0,249.9 1868.0,249.9" fill="#1410ff"/>
<polygon points="1894.6,225.4 1906.6,247.4 1882.6,247.4" fill="#1410ff"/>
<polygon points="1935.8,218.5 1947.8,240.5 1923.8,240.5" fill="#1410ff"/>
<polygon points="1950.7,215.9 1962.7,237.9 1938.7,237.9" fill="#1410ff"/>
<polygon points="1975.5,211.6 1987.5,233.6 1963.5,233.6" fill="#1410ff"/>
<polygon points="2018.5,204.5 2030.5,226.5 2006.5,226.5" fill="#1410ff"/>
<polygon points="2064.2,197.0 2076.2,219.0 2052.2,219.0" fill="#1410ff"/>
<polygon points="2100.3,190.9 2112.3,212.9 2088.3,212.9" fill="#1410ff"/>
<polygon points="282.0,1334.5 294.0,1356.5 270.0,1356.5" fill="#1410ff"/>
<polygon points="1645.3,771.3 1657.3,793.3 1633.3,793.3" fill="#1410ff"/>
<polygon points="1718.0,608.5 1730.0,630.5 1706.0,630.5" fill="#1410ff"/>
<polygon points="1794.2,277.9 1806.2,299.9 1782.2,299.9" fill="#1410ff"/>
<polygon points="1646.3,281.6 1658.3,303.6 1634.3,303.6" fill="#1410ff"/>
<polygon points="1607.2,443.0 1619.2,465.0 1595.2,465.0" fill="#1410ff"/></g>
<g><path d="M282.8,1334.5 L284.3,1332.3 L285.8,1330.0 L287.4,1327.8 L288.9,1325.5 L290.4,1323.2 L292.0,1321.0 L293.5,1318.7 L295.0,1316.5 L296.5,1314.3 L298.0,1312.1 L299.4,1310.0 L300.8,1307.9 L302.0,1306.1 L303.1,1304.4 L304.3,1302.7 L305.4,1301.0 L306.5,1299.3 L307.6,1297.7 L308.6,1296.0 L309.7,1294.4 L310.8,1292.8 L311.9,1291.1 L313.0,1289.5 L314.1,1287.9 L315.2,1286.3 L316.3,1284.8 L317.4,1283.2 L318.5,1281.7 L319.6,1280.1 L320.7,1278.6 L321.8,1277.1 L322.9,1275.5 L324.1,1274.0 L325.2,1272.5 L326.3,1270.9 L327.4,1269.4 L328.5,1267.9 L329.6,1266.4 L330.6,1264.9 L331.7,1263.4 L332.8,1261.9 L333.8,1260.3 L334.9,1258.8 L336.0,1257.3 L337.2,1255.8 L338.3,1254.2 L339.5,1252.6 L340.8,1251.0 L342.4,1249.0 L344.1,1246.9 L345.8,1244.7 L347.6,1242.5 L349.4,1240.3 L351.3,1238.1 L353.2,1235.9 L355.1,1233.7 L357.0,1231.5 L358.9,1229.3 L360.8,1227.2 L362.7,1225.2 L364.5,1223.3 L366.2,1221.5 L368.0,1219.6 L369.8,1217.8 L371.6,1216.0 L373.4,1214.2 L375.2,1212.5 L377.0,1210.8 L378.8,1209.1 L380.6,1207.5 L382.4,1205.9 L384.3,1204.3 L386.0,1202.9 L387.8,1201.5 L389.5,1200.2 L391.3,1198.9 L393.1,1197.6 L394.9,1196.3 L396.7,1195.1 L398.5,1193.9 L400.3,1192.7 L402.1,1191.6 L403.9,1190.4 L405.7,1189.3 L407.5,1188.2 L409.2,1187.2 L411.0,1186.1 L412.8,1185.1 L414.6,1184.1 L416.4,1183.1 L418.2,1182.1 L420.0,1181.2 L421.8,1180.3 L423.6,1179.4 L425.4,1178.6 L427.3,1177.8 L429.1,1177.1 L431.0,1176.4 L432.8,1175.7 L434.6,1175.1 L436.4,1174.6 L438.3,1174.0 L440.2,1173.5 L442.1,1173.0 L444.0,1172.4 L445.9,1171.9 L447.9,1171.4 L450.0,1170.8 L452.5,1170.1 L455.2,1169.5 L457.9,1168.9 L460.6,1168.2 L463.4,1167.6 L466.2,1167.0 L469.1,1166.4 L471.9,1165.7 L474.8,1165.0 L477.6,1164.3 L480.3,1163.5 L483.0,1162.7 L485.5,1161.8 L488.0,1161.0 L490.4,1160.0 L492.7,1159.1 L495.0,1158.1 L497.4,1157.1 L499.7,1156.1 L502.2,1155.0 L504.7,1153.9 L507.3,1152.9 L510.1,1151.8 L513.0,1150.7 L517.6,1149.0 L522.6,1147.3 L527.8,1145.5 L533.2,1143.7 L538.9,1141.8 L544.7,1139.9 L550.5,1138.0 L556.5,1136.1 L562.5,1134.3 L568.4,1132.5 L574.3,1130.8 L580.0,1129.2 L585.9,1127.6 L592.0,1126.1 L598.3,1124.7 L604.7,1123.2 L611.2,1121.9 L617.5,1120.5 L623.8,1119.2 L629.8,1117.9 L635.5,1116.7 L640.8,1115.5 L645.7,1114.3 L650.0,1113.2 L652.1,1112.6 L654.0,1112.1 L655.7,1111.5 L657.3,1111.0 L658.8,1110.5 L660.2,1110.0 L661.7,1109.5 L663.1,1108.9 L664.6,1108.4 L666.3,1107.9 L668.1,1107.3 L670.0,1106.7 L673.4,1105.7 L677.0,1104.6 L680.9,1103.5 L685.0,1102.4 L689.2,1101.2 L693.6,1100.0 L698.0,1098.7 L702.5,1097.5 L707.0,1096.3 L711.4,1095.1 L715.8,1093.9 L720.0,1092.7 L724.1,1091.6 L728.1,1090.5 L732.0,1089.4 L735.9,1088.3 L739.7,1087.3 L743.6,1086.2 L747.6,1085.1 L751.7,1084.0 L756.0,1082.9 L760.4,1081.7 L765.1,1080.5 L770.0,1079.2 L778.2,1077.1 L787.1,1074.9 L796.5,1072.6 L806.3,1070.2 L816.6,1067.8 L827.1,1065.3 L837.7,1062.7 L848.5,1060.2 L859.2,1057.6 L869.7,1055.1 L880.0,1052.6 L890.0,1050.2 L899.4,1047.9 L908.7,1045.6 L918.0,1043.4 L927.2,1041.1 L936.4,1038.8 L945.6,1036.5 L954.8,1034.3 L963.9,1032.0 L973.0,1029.8 L982.0,1027.6 L991.0,1025.4 L1000.0,1023.2 L1008.5,1021.1 L1017.0,1019.0 L1025.5,1016.9 L1034.0,1014.7 L1042.4,1012.6 L1050.8,1010.5 L1059.1,1008.5 L1067.4,1006.4 L1075.7,1004.5 L1083.8,1002.6 L1092.0,1000.7 L1100.0,999.0 L1107.3,997.5 L1114.5,996.1 L1121.7,994.9 L1128.8,993.7 L1135.8,992.5 L1142.9,991.4 L1149.9,990.2 L1156.8,989.1 L1163.8,987.8 L1170.8,986.5 L1177.8,985.1 L1184.8,983.5 L1191.9,981.8 L1199.0,979.9 L1206.2,978.0 L1213.3,976.0 L1220.4,974.0 L1227.5,971.9 L1234.6,969.7 L1241.6,967.6 L1248.7,965.5 L1255.7,963.4 L1262.7,961.3 L1269.7,959.3 L1276.4,957.4 L1283.2,955.5 L1289.9,953.7 L1296.6,951.8 L1303.3,950.0 L1310.0,948.1 L1316.6,946.3 L1323.2,944.5 L1329.8,942.7 L1336.2,940.8 L1342.7,939.0 L1349.0,937.2 L1354.7,935.5 L1360.4,933.9 L1366.0,932.2 L1371.5,930.6 L1377.1,929.0 L1382.5,927.3 L1388.0,925.7 L1393.4,924.0 L1398.8,922.4 L1404.2,920.7 L1409.6,919.1 L1415.0,917.4 L1420.3,915.8 L1425.8,914.1 L1431.5,912.4 L1437.1,910.7 L1442.7,909.0 L1448.3,907.3 L1453.7,905.6 L1459.0,903.9 L1464.0,902.3 L1468.6,900.7 L1473.0,899.1 L1476.9,897.6 L1478.9,896.8 L1480.7,896.0 L1482.4,895.2 L1483.9,894.4 L1485.3,893.7 L1486.7,892.9 L1488.1,892.2 L1489.6,891.4 L1491.1,890.6 L1492.8,889.8 L1494.6,888.9 L1496.7,888.0 L1501.2,886.1 L1506.5,884.1 L1512.3,881.9 L1518.5,879.6 L1525.1,877.2 L1531.9,874.8 L1538.7,872.3 L1545.6,869.9 L1552.2,867.5 L1558.6,865.2 L1564.6,863.0 L1570.0,861.0 L1573.7,859.6 L1577.2,858.3 L1580.5,856.9 L1583.8,855.7 L1587.0,854.4 L1590.1,853.2 L1593.1,852.0 L1596.2,850.8 L1599.2,849.5 L1602.3,848.3 L1605.4,847.1 L1608.6,845.9 L1611.9,844.7 L1615.2,843.5 L1618.6,842.4 L1622.0,841.3 L1625.4,840.2 L1628.8,839.1 L1632.1,838.0 L1635.4,836.8 L1638.5,835.6 L1641.5,834.3 L1644.4,832.9 L1647.1,831.4 L1649.1,830.1 L1651.1,828.8 L1652.9,827.5 L1654.6,826.1 L1656.3,824.7 L1658.0,823.3 L1659.5,821.8 L1661.1,820.3 L1662.6,818.7 L1664.2,817.2 L1665.7,815.6 L1667.3,814.0 L1668.9,812.3 L1670.5,810.6 L1672.1,808.9 L1673.7,807.2 L1675.2,805.4 L1676.7,803.7 L1678.2,801.8 L1679.7,800.0 L1681.2,798.1 L1682.7,796.1 L1684.2,794.1 L1685.7,792.0 L1687.5,789.5 L1689.2,786.9 L1690.9,784.2 L1692.7,781.5 L1694.4,778.7 L1696.1,775.8 L1697.8,772.9 L1699.5,770.0 L1701.1,766.9 L1702.8,763.9 L1704.3,760.8 L1705.9,757.7 L1707.6,754.2 L1709.3,750.5 L1710.9,746.8 L1712.6,743.0 L1714.1,739.2 L1715.7,735.3 L1717.2,731.4 L1718.7,727.5 L1720.2,723.5 L1721.6,719.6 L1723.0,715.7 L1724.3,711.8 L1725.5,708.0 L1726.7,704.2 L1727.8,700.4 L1728.9,696.6 L1729.9,692.7 L1730.9,688.9 L1731.9,685.0 L1732.9,681.2 L1733.9,677.4 L1734.9,673.5 L1736.0,669.7 L1737.1,665.9 L1738.3,662.1 L1739.5,658.2 L1740.7,654.3 L1741.9,650.5 L1743.2,646.6 L1744.4,642.7 L1745.7,638.9 L1746.9,635.0 L1748.2,631.2 L1749.4,627.5 L1750.6,623.7 L1751.8,620.0 L1752.9,616.6 L1753.9,613.3 L1754.9,610.0 L1755.9,606.8 L1756.9,603.6 L1757.9,600.4 L1759.0,597.2 L1760.0,594.0 L1761.0,590.7 L1762.1,587.3 L1763.2,583.9 L1764.3,580.4 L1765.7,576.1 L1767.1,571.7 L1768.6,567.1 L1770.1,562.5 L1771.6,557.8 L1773.1,553.1 L1774.7,548.3 L1776.2,543.6 L1777.8,538.9 L1779.4,534.3 L1781.0,529.7 L1782.6,525.3 L1784.1,521.3 L1785.5,517.4 L1787.0,513.5 L1788.5,509.6 L1790.0,505.8 L1791.5,502.0 L1793.0,498.2 L1794.6,494.5 L1796.1,490.7 L1797.7,487.0 L1799.3,483.2 L1801.0,479.4 L1802.7,475.5 L1804.4,471.6 L1806.0,467.6 L1807.7,463.5 L1809.4,459.5 L1811.2,455.6 L1813.0,451.6 L1814.8,447.8 L1816.8,444.0 L1818.7,440.4 L1820.8,436.8 L1823.0,433.5 L1825.0,430.7 L1827.1,427.9 L1829.3,425.3 L1831.6,422.7 L1833.9,420.2 L1836.2,417.8 L1838.6,415.4 L1841.0,413.1 L1843.4,410.8 L1845.8,408.5 L1848.2,406.3 L1850.6,404.1 L1852.8,402.0 L1855.1,400.0 L1857.3,398.0 L1859.6,396.0 L1861.8,394.1 L1864.1,392.2 L1866.4,390.3 L1868.7,388.5 L1871.0,386.8 L1873.4,385.1 L1875.7,383.5 L1878.1,382.0 L1880.3,380.7 L1882.5,379.4 L1884.7,378.3 L1886.9,377.2 L1889.2,376.1 L1891.4,375.1 L1893.7,374.1 L1896.0,373.2 L1898.4,372.2 L1900.7,371.2 L1903.2,370.2 L1905.7,369.2 L1908.7,368.0 L1911.8,366.7 L1915.0,365.4 L1918.2,364.2 L1921.5,362.9 L1924.8,361.7 L1928.2,360.4 L1931.6,359.2 L1935.0,358.0 L1938.6,356.9 L1942.1,355.8 L1945.7,354.7 L1949.9,353.5 L1954.1,352.4 L1958.5,351.3 L1963.0,350.2 L1967.5,349.1 L1972.1,348.1 L1976.7,347.2 L1981.3,346.2 L1985.8,345.3 L1990.3,344.4 L1994.7,343.6 L1999.0,342.8 L2002.8,342.1 L2006.6,341.5 L2010.3,340.9 L2014.1,340.3 L2017.7,339.7 L2021.4,339.2 L2025.1,338.7 L2028.7,338.2 L2032.3,337.7 L2035.9,337.3 L2039.4,336.8 L2043.0,336.4 L2046.5,336.0 L2050.1,335.6 L2053.9,335.2 L2057.7,334.8 L2061.5,334.4 L2065.2,334.0 L2068.8,333.7 L2072.1,333.4 L2075.2,333.1 L2077.8,332.9 L2080.1,332.7 L2081.8,332.5 L2082.2,332.5 L2082.5,332.4 L2082.8,332.4 L2083.1,332.4 L2083.4,332.3 L2083.6,332.3 L2083.8,332.3 L2084.1,332.3 L2084.3,332.3 L2084.5,332.2 L2084.7,332.2 L2085.0,332.2" fill="none" stroke="#008000" stroke-width="10.8" stroke-linejoin="round" stroke-linecap="round"/>
<path d="M426.0,1178.5 L426.8,1178.0 L427.6,1177.5 L428.5,1177.0 L429.3,1176.5 L430.1,1176.0 L430.9,1175.5 L431.7,1175.0 L432.5,1174.4 L433.4,1173.9 L434.2,1173.4 L435.1,1172.8 L436.0,1172.3 L437.1,1171.6 L438.1,1170.9 L439.2,1170.1 L440.2,1169.3 L441.3,1168.6 L442.4,1167.8 L443.5,1167.0 L444.7,1166.2 L445.9,1165.4 L447.2,1164.6 L448.6,1163.9 L450.0,1163.2 L452.2,1162.2 L454.6,1161.2 L457.2,1160.3 L460.0,1159.4 L462.8,1158.5 L465.7,1157.7 L468.6,1156.8 L471.6,1155.9 L474.5,1155.1 L477.4,1154.2 L480.3,1153.3 L483.0,1152.3 L485.5,1151.4 L488.0,1150.4 L490.3,1149.5 L492.7,1148.5 L495.0,1147.5 L497.3,1146.5 L499.7,1145.5 L502.1,1144.5 L504.7,1143.5 L507.3,1142.4 L510.1,1141.4 L513.0,1140.3 L517.6,1138.6 L522.6,1136.9 L527.8,1135.1 L533.2,1133.3 L538.9,1131.4 L544.7,1129.5 L550.5,1127.6 L556.5,1125.7 L562.5,1123.9 L568.4,1122.1 L574.3,1120.4 L580.0,1118.8 L585.9,1117.2 L592.0,1115.7 L598.3,1114.3 L604.7,1112.8 L611.2,1111.5 L617.5,1110.1 L623.8,1108.8 L629.8,1107.5 L635.5,1106.3 L640.8,1105.1 L645.7,1103.9 L650.0,1102.8 L652.1,1102.2 L654.0,1101.7 L655.7,1101.1 L657.3,1100.6 L658.8,1100.1 L660.2,1099.6 L661.7,1099.1 L663.1,1098.5 L664.6,1098.0 L666.3,1097.5 L668.1,1096.9 L670.0,1096.3 L673.4,1095.3 L677.0,1094.2 L680.9,1093.1 L685.0,1092.0 L689.2,1090.8 L693.6,1089.6 L698.0,1088.3 L702.5,1087.1 L707.0,1085.9 L711.4,1084.7 L715.8,1083.5 L720.0,1082.3 L724.1,1081.2 L728.1,1080.1 L732.0,1079.0 L735.9,1077.9 L739.7,1076.9 L743.6,1075.8 L747.6,1074.7 L751.7,1073.6 L756.0,1072.5 L760.4,1071.3 L765.1,1070.1 L770.0,1068.8 L778.2,1066.7 L787.1,1064.5 L796.5,1062.2 L806.3,1059.8 L816.6,1057.4 L827.1,1054.9 L837.7,1052.3 L848.5,1049.8 L859.2,1047.2 L869.7,1044.7 L880.0,1042.2 L890.0,1039.8 L899.4,1037.5 L908.7,1035.2 L918.0,1033.0 L927.2,1030.7 L936.4,1028.4 L945.6,1026.1 L954.8,1023.9 L963.9,1021.6 L973.0,1019.4 L982.0,1017.2 L991.0,1015.0 L1000.0,1012.8 L1008.5,1010.7 L1017.0,1008.6 L1025.5,1006.5 L1034.0,1004.3 L1042.4,1002.2 L1050.8,1000.1 L1059.1,998.1 L1067.4,996.0 L1075.7,994.1 L1083.8,992.2 L1092.0,990.3 L1100.0,988.6 L1107.3,987.1 L1114.5,985.7 L1121.7,984.5 L1128.8,983.3 L1135.8,982.1 L1142.9,981.0 L1149.9,979.8 L1156.8,978.7 L1163.8,977.4 L1170.8,976.1 L1177.8,974.7 L1184.8,973.1 L1191.9,971.4 L1199.0,969.5 L1206.2,967.6 L1213.3,965.6 L1220.4,963.6 L1227.5,961.5 L1234.6,959.3 L1241.6,957.2 L1248.7,955.1 L1255.7,953.0 L1262.7,950.9 L1269.7,948.9 L1276.4,947.0 L1283.2,945.1 L1289.9,943.3 L1296.6,941.4 L1303.3,939.6 L1310.0,937.7 L1316.6,935.9 L1323.2,934.1 L1329.8,932.3 L1336.2,930.4 L1342.7,928.6 L1349.0,926.8 L1354.7,925.1 L1360.4,923.5 L1366.0,921.8 L1371.5,920.2 L1377.1,918.6 L1382.5,916.9 L1388.0,915.3 L1393.4,913.6 L1398.8,912.0 L1404.2,910.3 L1409.6,908.7 L1415.0,907.0 L1420.3,905.3 L1425.8,903.6 L1431.4,901.9 L1437.0,900.1 L1442.6,898.3 L1448.1,896.5 L1453.5,894.8 L1458.7,893.1 L1463.7,891.5 L1468.5,890.0 L1472.9,888.5 L1476.9,887.2 L1479.1,886.5 L1481.2,886.0 L1483.1,885.5 L1485.0,885.0 L1486.8,884.6 L1488.6,884.2 L1490.2,883.7 L1491.9,883.2 L1493.5,882.6 L1495.1,881.9 L1496.8,881.0 L1498.4,880.0 L1500.4,878.5 L1502.4,876.8 L1504.4,874.9 L1506.3,872.8 L1508.2,870.6 L1510.0,868.3 L1511.8,865.9 L1513.6,863.4 L1515.3,860.9 L1517.1,858.4 L1518.7,855.9 L1520.4,853.4 L1522.1,850.7 L1523.8,848.0 L1525.5,845.2 L1527.1,842.4 L1528.6,839.5 L1530.2,836.6 L1531.7,833.6 L1533.1,830.6 L1534.6,827.7 L1536.0,824.7 L1537.4,821.7 L1538.8,818.7 L1540.2,815.7 L1541.5,812.6 L1542.7,809.5 L1544.0,806.3 L1545.2,803.1 L1546.4,800.0 L1547.6,796.8 L1548.8,793.7 L1549.9,790.7 L1551.1,787.7 L1552.2,784.8 L1553.4,782.0 L1554.4,779.8 L1555.3,777.8 L1556.3,775.8 L1557.3,773.9 L1558.2,772.1 L1559.2,770.2 L1560.1,768.4 L1561.0,766.5 L1561.9,764.5 L1562.8,762.4 L1563.7,760.2 L1564.5,757.9 L1565.6,754.4 L1566.6,750.8 L1567.6,746.9 L1568.5,742.9 L1569.4,738.8 L1570.3,734.5 L1571.1,730.2 L1571.9,725.9 L1572.8,721.5 L1573.7,717.1 L1574.6,712.8 L1575.5,708.6 L1576.5,704.2 L1577.5,699.7 L1578.6,695.1 L1579.6,690.5 L1580.7,685.8 L1581.7,681.2 L1582.8,676.6 L1583.9,672.1 L1584.9,667.6 L1586.0,663.3 L1587.0,659.1 L1588.0,655.0 L1588.8,651.8 L1589.6,648.8 L1590.4,645.8 L1591.2,642.9 L1592.1,640.0 L1592.8,637.2 L1593.6,634.4 L1594.4,631.6 L1595.2,628.7 L1596.0,625.9 L1596.7,623.0 L1597.5,620.0 L1598.3,616.8 L1599.0,613.6 L1599.8,610.3 L1600.5,607.1 L1601.2,603.8 L1601.9,600.6 L1602.6,597.2 L1603.4,593.9 L1604.1,590.5 L1604.9,587.1 L1605.7,583.6 L1606.5,580.0 L1607.5,575.7 L1608.6,571.2 L1609.7,566.7 L1610.8,562.0 L1611.9,557.3 L1613.1,552.5 L1614.3,547.8 L1615.5,543.1 L1616.6,538.4 L1617.8,533.9 L1618.9,529.5 L1620.0,525.3 L1620.9,521.9 L1621.8,518.7 L1622.6,515.4 L1623.5,512.3 L1624.3,509.2 L1625.2,506.1 L1626.1,503.1 L1626.9,500.1 L1627.8,497.1 L1628.7,494.1 L1629.6,491.1 L1630.5,488.0 L1631.4,484.9 L1632.4,481.9 L1633.4,478.8 L1634.4,475.7 L1635.5,472.6 L1636.5,469.5 L1637.5,466.5 L1638.5,463.5 L1639.5,460.5 L1640.5,457.5 L1641.5,454.6 L1642.4,451.8 L1643.2,449.4 L1643.9,446.9 L1644.6,444.5 L1645.2,442.1 L1645.9,439.7 L1646.5,437.4 L1647.2,435.1 L1647.9,432.8 L1648.6,430.6 L1649.4,428.4 L1650.3,426.3 L1651.2,424.3 L1652.1,422.6 L1653.0,420.8 L1654.0,419.2 L1655.0,417.5 L1656.1,415.9 L1657.2,414.3 L1658.3,412.8 L1659.4,411.3 L1660.6,409.9 L1661.7,408.6 L1662.9,407.2 L1664.0,406.0 L1665.0,405.0 L1665.9,404.1 L1666.9,403.3 L1667.9,402.5 L1669.0,401.7 L1670.0,400.9 L1671.0,400.2 L1672.0,399.5 L1673.0,398.7 L1674.0,398.0 L1675.0,397.3 L1676.0,396.5 L1676.9,395.7 L1677.7,395.0 L1678.5,394.2 L1679.2,393.4 L1680.0,392.6 L1680.8,391.8 L1681.6,391.0 L1682.4,390.3 L1683.3,389.5 L1684.3,388.8 L1685.5,388.1 L1686.7,387.5 L1689.3,386.4 L1692.4,385.4 L1695.8,384.6 L1699.6,383.8 L1703.6,383.0 L1707.7,382.3 L1711.9,381.7 L1716.1,381.1 L1720.3,380.4 L1724.3,379.8 L1728.2,379.2 L1731.7,378.5 L1734.4,377.9 L1737.0,377.4 L1739.5,376.8 L1742.0,376.2 L1744.4,375.7 L1746.8,375.1 L1749.2,374.6 L1751.6,374.1 L1754.0,373.6 L1756.6,373.1 L1759.2,372.6 L1762.0,372.1 L1765.7,371.5 L1769.5,371.0 L1773.5,370.5 L1777.6,370.0 L1781.7,369.6 L1786.0,369.2 L1790.2,368.7 L1794.4,368.3 L1798.6,367.9 L1802.8,367.5 L1806.8,367.0 L1810.7,366.6 L1814.1,366.2 L1817.4,365.8 L1820.6,365.5 L1823.8,365.1 L1827.0,364.8 L1830.1,364.4 L1833.2,364.0 L1836.4,363.7 L1839.6,363.3 L1842.8,362.9 L1846.0,362.5 L1849.3,362.0 L1852.9,361.5 L1856.6,360.9 L1860.4,360.3 L1864.1,359.7 L1867.9,359.0 L1871.7,358.3 L1875.5,357.7 L1879.3,357.0 L1883.1,356.4 L1886.9,355.8 L1890.6,355.2 L1894.3,354.7 L1897.8,354.2 L1901.2,353.8 L1904.5,353.4 L1907.9,353.1 L1911.2,352.7 L1914.5,352.4 L1917.9,352.0 L1921.2,351.7 L1924.7,351.3 L1928.2,350.9 L1931.9,350.5 L1935.6,350.1 L1940.4,349.5 L1945.5,348.9 L1950.8,348.3 L1956.2,347.6 L1961.6,346.9 L1967.2,346.2 L1972.7,345.5 L1978.2,344.8 L1983.6,344.2 L1988.9,343.5 L1994.1,342.8 L1999.0,342.2 L2003.0,341.7 L2006.8,341.2 L2010.6,340.7 L2014.4,340.2 L2018.0,339.6 L2021.7,339.1 L2025.3,338.7 L2028.8,338.2 L2032.4,337.7 L2035.9,337.3 L2039.5,336.8 L2043.0,336.4 L2046.5,336.0 L2050.1,335.6 L2053.9,335.2 L2057.7,334.8 L2061.5,334.4 L2065.2,334.1 L2068.8,333.7 L2072.1,333.4 L2075.2,333.1 L2077.8,332.9 L2080.1,332.7 L2081.8,332.5 L2082.2,332.5 L2082.5,332.4 L2082.8,332.4 L2083.1,332.4 L2083.4,332.3 L2083.6,332.3 L2083.8,332.3 L2084.1,332.3 L2084.3,332.3 L2084.5,332.2 L2084.7,332.2 L2085.0,332.2" fill="none" stroke="#008000" stroke-width="10.8" stroke-linejoin="round" stroke-linecap="round"/>
<polygon points="461.0,1156.1 473.4,1168.5 461.0,1180.9 448.6,1168.5" fill="#008000"/>
<polygon points="507.0,1140.9 519.4,1153.3 507.0,1165.7 494.6,1153.3" fill="#008000"/>
<polygon points="548.0,1126.7 560.4,1139.1 548.0,1151.5 535.6,1139.1" fill="#008000"/>
<polygon points="595.0,1113.4 607.4,1125.8 595.0,1138.2 582.6,1125.8" fill="#008000"/>
<polygon points="635.0,1104.7 647.4,1117.1 635.0,1129.5 622.6,1117.1" fill="#008000"/>
<polygon points="678.0,1092.2 690.4,1104.6 678.0,1117.0 665.6,1104.6" fill="#008000"/>
<polygon points="721.0,1080.3 733.4,1092.7 721.0,1105.1 708.6,1092.7" fill="#008000"/>
<polygon points="762.0,1069.2 774.4,1081.6 762.0,1094.0 749.6,1081.6" fill="#008000"/>
<polygon points="800.0,1059.7 812.4,1072.1 800.0,1084.5 787.6,1072.1" fill="#008000"/>
<polygon points="845.0,1048.9 857.4,1061.3 845.0,1073.7 832.6,1061.3" fill="#008000"/>
<polygon points="882.0,1040.0 894.4,1052.4 882.0,1064.8 869.6,1052.4" fill="#008000"/>
<polygon points="934.0,1027.3 946.4,1039.7 934.0,1052.1 921.6,1039.7" fill="#008000"/>
<polygon points="972.0,1018.0 984.4,1030.4 972.0,1042.8 959.6,1030.4" fill="#008000"/>
<polygon points="1008.0,1009.1 1020.4,1021.5 1008.0,1033.9 995.6,1021.5" fill="#008000"/>
<polygon points="1050.0,998.6 1062.4,1011.0 1050.0,1023.4 1037.6,1011.0" fill="#008000"/>
<polygon points="1095.0,988.0 1107.4,1000.4 1095.0,1012.8 1082.6,1000.4" fill="#008000"/>
<polygon points="1144.0,979.1 1156.4,991.5 1144.0,1003.9 1131.6,991.5" fill="#008000"/>
<polygon points="1195.0,968.9 1207.4,981.3 1195.0,993.7 1182.6,981.3" fill="#008000"/>
<polygon points="1268.6,947.5 1281.0,959.9 1268.6,972.3 1256.2,959.9" fill="#008000"/>
<polygon points="1341.3,927.3 1353.7,939.7 1341.3,952.1 1328.9,939.7" fill="#008000"/>
<polygon points="1415.2,905.2 1427.6,917.6 1415.2,930.0 1402.8,917.6" fill="#008000"/>
<polygon points="1489.0,879.6 1501.4,892.0 1489.0,904.4 1476.6,892.0" fill="#008000"/>
<polygon points="1569.4,849.1 1581.8,861.5 1569.4,873.9 1557.0,861.5" fill="#008000"/>
<polygon points="435.0,1160.2 447.4,1172.6 435.0,1185.0 422.6,1172.6" fill="#008000"/>
<polygon points="513.0,1127.6 525.4,1140.0 513.0,1152.4 500.6,1140.0" fill="#008000"/>
<polygon points="585.0,1104.8 597.4,1117.2 585.0,1129.6 572.6,1117.2" fill="#008000"/>
<polygon points="667.0,1084.5 679.4,1096.9 667.0,1109.3 654.6,1096.9" fill="#008000"/>
<polygon points="737.0,1064.9 749.4,1077.3 737.0,1089.7 724.6,1077.3" fill="#008000"/>
<polygon points="810.0,1046.3 822.4,1058.7 810.0,1071.1 797.6,1058.7" fill="#008000"/>
<polygon points="887.0,1027.8 899.4,1040.2 887.0,1052.6 874.6,1040.2" fill="#008000"/>
<polygon points="962.0,1009.4 974.4,1021.8 962.0,1034.2 949.6,1021.8" fill="#008000"/>
<polygon points="1037.0,990.9 1049.4,1003.3 1037.0,1015.7 1024.6,1003.3" fill="#008000"/>
<polygon points="1117.0,972.6 1129.4,985.0 1117.0,997.4 1104.6,985.0" fill="#008000"/>
<polygon points="1184.8,960.7 1197.2,973.1 1184.8,985.5 1172.4,973.1" fill="#008000"/>
<polygon points="1225.0,949.8 1237.4,962.2 1225.0,974.6 1212.6,962.2" fill="#008000"/>
<polygon points="1265.7,937.6 1278.1,950.0 1265.7,962.4 1253.3,950.0" fill="#008000"/>
<polygon points="1306.1,926.4 1318.5,938.8 1306.1,951.2 1293.7,938.8" fill="#008000"/>
<polygon points="1349.0,914.4 1361.4,926.8 1349.0,939.2 1336.6,926.8" fill="#008000"/>
<polygon points="1395.3,900.7 1407.7,913.1 1395.3,925.5 1382.9,913.1" fill="#008000"/>
<polygon points="1430.6,889.7 1443.0,902.1 1430.6,914.5 1418.2,902.1" fill="#008000"/>
<polygon points="1476.0,875.1 1488.4,887.5 1476.0,899.9 1463.6,887.5" fill="#008000"/>
<polygon points="1564.5,745.5 1576.9,757.9 1564.5,770.3 1552.1,757.9" fill="#008000"/>
<polygon points="1686.7,375.1 1699.1,387.5 1686.7,399.9 1674.3,387.5" fill="#008000"/>
<polygon points="1731.7,366.1 1744.1,378.5 1731.7,390.9 1719.3,378.5" fill="#008000"/>
<polygon points="1762.0,359.7 1774.4,372.1 1762.0,384.5 1749.6,372.1" fill="#008000"/>
<polygon points="1811.0,353.2 1823.4,365.6 1811.0,378.0 1798.6,365.6" fill="#008000"/>
<polygon points="1849.6,348.6 1862.0,361.0 1849.6,373.4 1837.2,361.0" fill="#008000"/>
<polygon points="1880.0,343.5 1892.4,355.9 1880.0,368.3 1867.6,355.9" fill="#008000"/>
<polygon points="1894.6,341.3 1907.0,353.7 1894.6,366.1 1882.2,353.7" fill="#008000"/>
<polygon points="1935.8,336.7 1948.2,349.1 1935.8,361.5 1923.4,349.1" fill="#008000"/>
<polygon points="1950.7,334.9 1963.1,347.3 1950.7,359.7 1938.3,347.3" fill="#008000"/>
<polygon points="1975.5,331.8 1987.9,344.2 1975.5,356.6 1963.1,344.2" fill="#008000"/>
<polygon points="2018.5,326.2 2030.9,338.6 2018.5,351.0 2006.1,338.6" fill="#008000"/>
<polygon points="2064.2,320.8 2076.6,333.2 2064.2,345.6 2051.8,333.2" fill="#008000"/>
<polygon points="2100.3,318.1 2112.7,330.5 2100.3,342.9 2087.9,330.5" fill="#008000"/>
<polygon points="282.3,1322.0 294.7,1334.4 282.3,1346.8 269.9,1334.4" fill="#008000"/>
<polygon points="1716.0,755.4 1728.4,767.8 1716.0,780.2 1703.6,767.8" fill="#008000"/>
<polygon points="1794.6,437.0 1807.0,449.4 1794.6,461.8 1782.2,449.4" fill="#008000"/>
<polygon points="1646.7,402.7 1659.1,415.1 1646.7,427.5 1634.3,415.1" fill="#008000"/>
<polygon points="1607.2,566.1 1619.6,578.5 1607.2,590.9 1594.8,578.5" fill="#008000"/>
<polygon points="1518.7,840.3 1531.1,852.7 1518.7,865.1 1506.3,852.7" fill="#008000"/>
<polygon points="366.4,1196.8 378.8,1209.2 366.4,1221.6 354.0,1209.2" fill="#008000"/>
<polygon points="1647.1,819.0 1659.5,831.4 1647.1,843.8 1634.7,831.4" fill="#008000"/>
<polygon points="1879.6,362.1 1892.0,374.5 1879.6,386.9 1867.2,374.5" fill="#008000"/></g>
</g>
<g stroke="#000" fill="none" stroke-linecap="butt" shape-rendering="crispEdges">
<line x1="275.1" y1="60.4" x2="2123.7" y2="60.4" stroke-width="7.0"/>
<line x1="275.1" y1="1418.1" x2="2123.7" y2="1418.1" stroke-width="6.3"/>
<line x1="277.9" y1="60.4" x2="277.9" y2="1418.3" stroke-width="5.6"/>
<line x1="2120.9" y1="60.4" x2="2120.9" y2="1418.3" stroke-width="5.6"/>
</g>
<g stroke="#000" fill="none" stroke-linecap="round" shape-rendering="crispEdges">
<line x1="264.5" y1="1418.3" x2="276.1" y2="1418.3" stroke-width="7.0"/>
<line x1="250.5" y1="1313.8" x2="276.1" y2="1313.8" stroke-width="7.0"/>
<line x1="264.5" y1="1209.4" x2="276.1" y2="1209.4" stroke-width="7.0"/>
<line x1="250.5" y1="1104.9" x2="276.1" y2="1104.9" stroke-width="7.0"/>
<line x1="264.5" y1="1000.5" x2="276.1" y2="1000.5" stroke-width="7.0"/>
<line x1="250.5" y1="896.0" x2="276.1" y2="896.0" stroke-width="7.0"/>
<line x1="264.5" y1="791.6" x2="276.1" y2="791.6" stroke-width="7.0"/>
<line x1="250.5" y1="687.1" x2="276.1" y2="687.1" stroke-width="7.0"/>
<line x1="264.5" y1="582.7" x2="276.1" y2="582.7" stroke-width="7.0"/>
<line x1="250.5" y1="478.2" x2="276.1" y2="478.2" stroke-width="7.0"/>
<line x1="264.5" y1="373.8" x2="276.1" y2="373.8" stroke-width="7.0"/>
<line x1="250.5" y1="269.3" x2="276.1" y2="269.3" stroke-width="7.0"/>
<line x1="264.5" y1="164.9" x2="276.1" y2="164.9" stroke-width="7.0"/>
<line x1="250.5" y1="60.4" x2="276.1" y2="60.4" stroke-width="7.0"/>
<line x1="277.9" y1="1419.8" x2="277.9" y2="1446.0" stroke-width="5.6"/>
<line x1="462.2" y1="1419.8" x2="462.2" y2="1432.0" stroke-width="5.6"/>
<line x1="646.5" y1="1419.8" x2="646.5" y2="1446.0" stroke-width="5.6"/>
<line x1="830.8" y1="1419.8" x2="830.8" y2="1432.0" stroke-width="5.6"/>
<line x1="1015.1" y1="1419.8" x2="1015.1" y2="1446.0" stroke-width="5.6"/>
<line x1="1199.4" y1="1419.8" x2="1199.4" y2="1432.0" stroke-width="5.6"/>
<line x1="1383.7" y1="1419.8" x2="1383.7" y2="1446.0" stroke-width="5.6"/>
<line x1="1568.0" y1="1419.8" x2="1568.0" y2="1432.0" stroke-width="5.6"/>
<line x1="1752.3" y1="1419.8" x2="1752.3" y2="1446.0" stroke-width="5.6"/>
<line x1="1936.6" y1="1419.8" x2="1936.6" y2="1432.0" stroke-width="5.6"/>
<line x1="2120.9" y1="1419.8" x2="2120.9" y2="1446.0" stroke-width="5.6"/>
</g>
<g font-size="65" stroke="#fff" stroke-width="0.6">
<text x="231.6" y="1327.1" text-anchor="end" textLength="101" lengthAdjust="spacingAndGlyphs">100</text>
<text x="231.6" y="1118.2" text-anchor="end" textLength="101" lengthAdjust="spacingAndGlyphs">200</text>
<text x="231.6" y="909.3" text-anchor="end" textLength="101" lengthAdjust="spacingAndGlyphs">300</text>
<text x="231.6" y="700.4" text-anchor="end" textLength="101" lengthAdjust="spacingAndGlyphs">400</text>
<text x="231.6" y="491.5" text-anchor="end" textLength="101" lengthAdjust="spacingAndGlyphs">500</text>
<text x="231.6" y="282.6" text-anchor="end" textLength="101" lengthAdjust="spacingAndGlyphs">600</text>
<text x="231.6" y="73.7" text-anchor="end" textLength="101" lengthAdjust="spacingAndGlyphs">700</text>
</g>
<g font-size="60.5" stroke="#fff" stroke-width="0.6">
<text x="278.5" y="1512.6" text-anchor="middle" textLength="83.3" lengthAdjust="spacingAndGlyphs">0.0</text>
<text x="647.1" y="1512.6" text-anchor="middle" textLength="83.3" lengthAdjust="spacingAndGlyphs">0.2</text>
<text x="1015.7" y="1512.6" text-anchor="middle" textLength="83.3" lengthAdjust="spacingAndGlyphs">0.4</text>
<text x="1384.3" y="1512.6" text-anchor="middle" textLength="83.3" lengthAdjust="spacingAndGlyphs">0.6</text>
<text x="1752.9" y="1512.6" text-anchor="middle" textLength="83.3" lengthAdjust="spacingAndGlyphs">0.8</text>
<text x="2121.5" y="1512.6" text-anchor="middle" textLength="83.3" lengthAdjust="spacingAndGlyphs">1.0</text>
</g>
<text transform="translate(1200.3,1626.7) scale(1,1.02)" font-size="73.1" text-anchor="middle">Relative pressure(p/po)</text>
<text transform="translate(80,792.2) rotate(-90) scale(1,1.03)" font-size="73.6" text-anchor="middle">Volume adsorbed(cc/g STP)</text>
<g id="legend" shape-rendering="crispEdges">
<rect x="544.5" y="248.5" width="844" height="380" fill="#fff" stroke="#000" stroke-width="3"/>
<line x1="591" y1="318.2" x2="753" y2="318.2" stroke="#000000" stroke-width="11.5" stroke-linecap="round"/>
<rect x="663.0" y="309.3" width="17.8" height="17.8" fill="#000000"/>
<text transform="translate(775.5,343.3) scale(1,1.035)" font-size="73.3">Ce/SBA15/DSM</text>
<line x1="591" y1="407.3" x2="753" y2="407.3" stroke="#ff0000" stroke-width="11.5" stroke-linecap="round"/>
<circle cx="671.9" cy="407.3" r="9.8" fill="#ff0000"/>
<text transform="translate(775.5,433.9) scale(1,1.035)" font-size="73.3">CeZr/SBA15/DSM</text>
<line x1="591" y1="497.2" x2="753" y2="497.2" stroke="#1410ff" stroke-width="11.5" stroke-linecap="round"/>
<polygon points="671.9,484.9 683.9,504.8 659.9,504.8" fill="#1410ff"/>
<text transform="translate(775.5,523.0) scale(1,1.035)" font-size="73.3">Zr/SBA15/DSM</text>
<line x1="591" y1="587.6" x2="753" y2="587.6" stroke="#008000" stroke-width="11.5" stroke-linecap="round"/>
<polygon points="671.9,575.2 684.3,587.6 671.9,600.0 659.5,587.6" fill="#008000"/>
<text transform="translate(775.5,613.2) scale(1,1.035)" font-size="73.3">SBA <tspan dx="6">15</tspan></text>
</g>
</svg></body></html>
